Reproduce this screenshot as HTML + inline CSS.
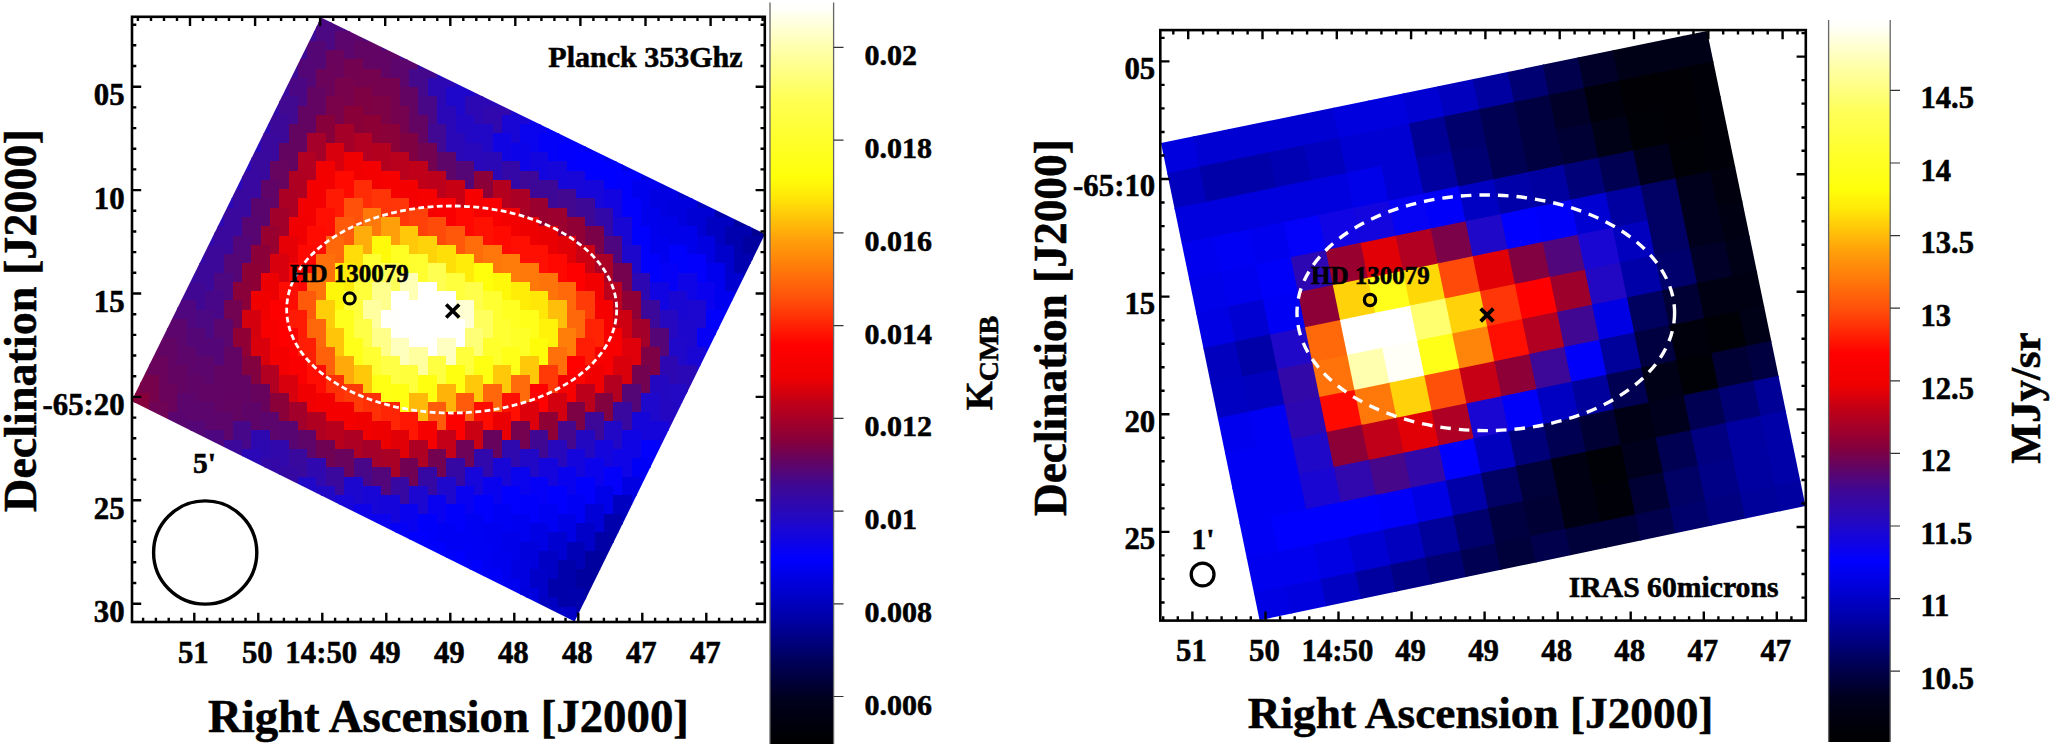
<!DOCTYPE html>
<html><head><meta charset="utf-8"><title>figure</title>
<style>html,body{margin:0;padding:0;background:#fff}svg{display:block}text{font-family:"Liberation Serif","DejaVu Serif",serif;font-weight:bold;fill:#000;stroke:#000;stroke-width:0.55px}</style>
</head><body>
<svg width="2050" height="747" viewBox="0 0 2050 747">
<rect width="2050" height="747" fill="#fff"/>
<defs><linearGradient id="cb" x1="0" y1="0" x2="0" y2="1"><stop offset="0.000" stop-color="#ffffff"/><stop offset="0.008" stop-color="#fffffa"/><stop offset="0.065" stop-color="#ffffa8"/><stop offset="0.130" stop-color="#ffff55"/><stop offset="0.190" stop-color="#ffff28"/><stop offset="0.235" stop-color="#ffff0a"/><stop offset="0.262" stop-color="#ffe808"/><stop offset="0.320" stop-color="#ffa00a"/><stop offset="0.400" stop-color="#ff500a"/><stop offset="0.462" stop-color="#ff0000"/><stop offset="0.505" stop-color="#f00000"/><stop offset="0.540" stop-color="#c00018"/><stop offset="0.590" stop-color="#87003a"/><stop offset="0.620" stop-color="#620464"/><stop offset="0.650" stop-color="#400892"/><stop offset="0.700" stop-color="#2008c8"/><stop offset="0.750" stop-color="#0000ff"/><stop offset="0.830" stop-color="#0000a8"/><stop offset="0.890" stop-color="#000058"/><stop offset="0.940" stop-color="#00001c"/><stop offset="1.000" stop-color="#000000"/></linearGradient>
<clipPath id="lclip"><polygon points="321.0,17.5 765.0,234.0 574.6,621.5 131.5,401.0"/></clipPath>
<clipPath id="rclip"><polygon points="1707.0,31.0 1805.5,506.0 1259.6,620.3 1161.0,143.0"/></clipPath>
</defs>
<g clip-path="url(#lclip)" shape-rendering="crispEdges"><rect x="307.1" y="3.6" width="18.9" height="9.6" fill="#39089d"/><rect x="325.6" y="3.6" width="9.6" height="9.6" fill="#3f0893"/><rect x="307.1" y="12.9" width="9.6" height="9.6" fill="#3c0898"/><rect x="316.4" y="12.9" width="9.6" height="9.6" fill="#4c0782"/><rect x="325.6" y="12.9" width="18.9" height="9.6" fill="#3f0893"/><rect x="344.2" y="12.9" width="9.6" height="9.6" fill="#490786"/><rect x="297.8" y="22.1" width="18.9" height="9.6" fill="#3c0898"/><rect x="316.4" y="22.1" width="28.1" height="9.6" fill="#4c0782"/><rect x="344.2" y="22.1" width="18.9" height="9.6" fill="#490786"/><rect x="362.7" y="22.1" width="9.6" height="9.6" fill="#4d0680"/><rect x="297.8" y="31.4" width="9.6" height="9.6" fill="#3f0894"/><rect x="307.1" y="31.4" width="9.6" height="9.6" fill="#3c0898"/><rect x="316.4" y="31.4" width="18.9" height="9.6" fill="#4c0782"/><rect x="334.9" y="31.4" width="28.1" height="9.6" fill="#5b056d"/><rect x="362.7" y="31.4" width="18.9" height="9.6" fill="#4d0680"/><rect x="381.3" y="31.4" width="9.6" height="9.6" fill="#4b0784"/><rect x="288.5" y="40.7" width="18.9" height="9.6" fill="#3f0894"/><rect x="307.1" y="40.7" width="18.9" height="9.6" fill="#550675"/><rect x="325.6" y="40.7" width="9.6" height="9.6" fill="#4c0782"/><rect x="334.9" y="40.7" width="18.9" height="9.6" fill="#5b056d"/><rect x="353.5" y="40.7" width="28.1" height="9.6" fill="#620464"/><rect x="381.3" y="40.7" width="18.9" height="9.6" fill="#4b0784"/><rect x="399.8" y="40.7" width="9.6" height="9.6" fill="#400893"/><rect x="288.5" y="50.0" width="9.6" height="9.6" fill="#3d0897"/><rect x="297.8" y="50.0" width="9.6" height="9.6" fill="#3f0894"/><rect x="307.1" y="50.0" width="18.9" height="9.6" fill="#550675"/><rect x="325.6" y="50.0" width="18.9" height="9.6" fill="#6a035b"/><rect x="344.2" y="50.0" width="9.6" height="9.6" fill="#5b056d"/><rect x="353.5" y="50.0" width="18.9" height="9.6" fill="#620464"/><rect x="372.0" y="50.0" width="28.1" height="9.6" fill="#620465"/><rect x="399.8" y="50.0" width="18.9" height="9.6" fill="#400893"/><rect x="418.4" y="50.0" width="9.6" height="9.6" fill="#3308a8"/><rect x="279.3" y="59.2" width="18.9" height="9.6" fill="#3d0897"/><rect x="297.8" y="59.2" width="18.9" height="9.6" fill="#540677"/><rect x="316.4" y="59.2" width="9.6" height="9.6" fill="#550675"/><rect x="325.6" y="59.2" width="18.9" height="9.6" fill="#6a035b"/><rect x="344.2" y="59.2" width="18.9" height="9.6" fill="#730251"/><rect x="362.7" y="59.2" width="9.6" height="9.6" fill="#620464"/><rect x="372.0" y="59.2" width="18.9" height="9.6" fill="#620465"/><rect x="390.6" y="59.2" width="28.1" height="9.6" fill="#5c056d"/><rect x="418.4" y="59.2" width="18.9" height="9.6" fill="#3308a8"/><rect x="436.9" y="59.2" width="9.6" height="9.6" fill="#2308c2"/><rect x="279.3" y="68.5" width="9.6" height="9.6" fill="#38089f"/><rect x="288.5" y="68.5" width="9.6" height="9.6" fill="#3d0897"/><rect x="297.8" y="68.5" width="18.9" height="9.6" fill="#540677"/><rect x="316.4" y="68.5" width="18.9" height="9.6" fill="#6b035a"/><rect x="334.9" y="68.5" width="9.6" height="9.6" fill="#6a035b"/><rect x="344.2" y="68.5" width="18.9" height="9.6" fill="#730251"/><rect x="362.7" y="68.5" width="18.9" height="9.6" fill="#75024e"/><rect x="381.3" y="68.5" width="9.6" height="9.6" fill="#620465"/><rect x="390.6" y="68.5" width="18.9" height="9.6" fill="#5c056d"/><rect x="409.1" y="68.5" width="28.1" height="9.6" fill="#44088d"/><rect x="436.9" y="68.5" width="18.9" height="9.6" fill="#2308c2"/><rect x="455.5" y="68.5" width="9.6" height="9.6" fill="#1e08cb"/><rect x="270.0" y="77.8" width="18.9" height="9.6" fill="#38089f"/><rect x="288.5" y="77.8" width="18.9" height="9.6" fill="#4b0783"/><rect x="307.1" y="77.8" width="9.6" height="9.6" fill="#540677"/><rect x="316.4" y="77.8" width="18.9" height="9.6" fill="#6b035a"/><rect x="334.9" y="77.8" width="18.9" height="9.6" fill="#78024b"/><rect x="353.5" y="77.8" width="9.6" height="9.6" fill="#730251"/><rect x="362.7" y="77.8" width="18.9" height="9.6" fill="#75024e"/><rect x="381.3" y="77.8" width="18.9" height="9.6" fill="#75024f"/><rect x="399.8" y="77.8" width="9.6" height="9.6" fill="#5c056d"/><rect x="409.1" y="77.8" width="18.9" height="9.6" fill="#44088d"/><rect x="427.7" y="77.8" width="28.1" height="9.6" fill="#2c08b4"/><rect x="455.5" y="77.8" width="18.9" height="9.6" fill="#1e08cb"/><rect x="474.0" y="77.8" width="9.6" height="9.6" fill="#2708bd"/><rect x="270.0" y="87.1" width="9.6" height="9.6" fill="#3208aa"/><rect x="279.3" y="87.1" width="9.6" height="9.6" fill="#38089f"/><rect x="288.5" y="87.1" width="18.9" height="9.6" fill="#4b0783"/><rect x="307.1" y="87.1" width="18.9" height="9.6" fill="#640462"/><rect x="325.6" y="87.1" width="9.6" height="9.6" fill="#6b035a"/><rect x="334.9" y="87.1" width="18.9" height="9.6" fill="#78024b"/><rect x="353.5" y="87.1" width="18.9" height="9.6" fill="#7e0144"/><rect x="372.0" y="87.1" width="9.6" height="9.6" fill="#75024e"/><rect x="381.3" y="87.1" width="18.9" height="9.6" fill="#75024f"/><rect x="399.8" y="87.1" width="18.9" height="9.6" fill="#630463"/><rect x="418.4" y="87.1" width="9.6" height="9.6" fill="#44088d"/><rect x="427.7" y="87.1" width="18.9" height="9.6" fill="#2c08b4"/><rect x="446.2" y="87.1" width="28.1" height="9.6" fill="#1e07cb"/><rect x="474.0" y="87.1" width="18.9" height="9.6" fill="#2708bd"/><rect x="492.6" y="87.1" width="9.6" height="9.6" fill="#2808ba"/><rect x="260.7" y="96.3" width="18.9" height="9.6" fill="#3208aa"/><rect x="279.3" y="96.3" width="18.9" height="9.6" fill="#410890"/><rect x="297.8" y="96.3" width="9.6" height="9.6" fill="#4b0783"/><rect x="307.1" y="96.3" width="18.9" height="9.6" fill="#640462"/><rect x="325.6" y="96.3" width="18.9" height="9.6" fill="#79024a"/><rect x="344.2" y="96.3" width="9.6" height="9.6" fill="#78024b"/><rect x="353.5" y="96.3" width="18.9" height="9.6" fill="#7e0144"/><rect x="372.0" y="96.3" width="18.9" height="9.6" fill="#7d0145"/><rect x="390.6" y="96.3" width="9.6" height="9.6" fill="#75024f"/><rect x="399.8" y="96.3" width="18.9" height="9.6" fill="#630463"/><rect x="418.4" y="96.3" width="18.9" height="9.6" fill="#480787"/><rect x="436.9" y="96.3" width="9.6" height="9.6" fill="#2c08b4"/><rect x="446.2" y="96.3" width="18.9" height="9.6" fill="#1e07cb"/><rect x="464.8" y="96.3" width="28.1" height="9.6" fill="#2c08b4"/><rect x="492.6" y="96.3" width="18.9" height="9.6" fill="#2808ba"/><rect x="511.1" y="96.3" width="9.6" height="9.6" fill="#1b07d1"/><rect x="260.7" y="105.6" width="9.6" height="9.6" fill="#2c08b4"/><rect x="270.0" y="105.6" width="9.6" height="9.6" fill="#3208aa"/><rect x="279.3" y="105.6" width="18.9" height="9.6" fill="#410890"/><rect x="297.8" y="105.6" width="18.9" height="9.6" fill="#630463"/><rect x="316.4" y="105.6" width="9.6" height="9.6" fill="#640462"/><rect x="325.6" y="105.6" width="18.9" height="9.6" fill="#79024a"/><rect x="344.2" y="105.6" width="18.9" height="9.6" fill="#890039"/><rect x="362.7" y="105.6" width="9.6" height="9.6" fill="#7e0144"/><rect x="372.0" y="105.6" width="18.9" height="9.6" fill="#7d0145"/><rect x="390.6" y="105.6" width="18.9" height="9.6" fill="#74024f"/><rect x="409.1" y="105.6" width="9.6" height="9.6" fill="#630463"/><rect x="418.4" y="105.6" width="18.9" height="9.6" fill="#480787"/><rect x="436.9" y="105.6" width="18.9" height="9.6" fill="#2a08b7"/><rect x="455.5" y="105.6" width="9.6" height="9.6" fill="#1e07cb"/><rect x="464.8" y="105.6" width="18.9" height="9.6" fill="#2c08b4"/><rect x="483.3" y="105.6" width="28.1" height="9.6" fill="#3008ae"/><rect x="511.1" y="105.6" width="18.9" height="9.6" fill="#1b07d1"/><rect x="529.7" y="105.6" width="9.6" height="9.6" fill="#0b03eb"/><rect x="251.4" y="114.9" width="18.9" height="9.6" fill="#2c08b4"/><rect x="270.0" y="114.9" width="18.9" height="9.6" fill="#3c0898"/><rect x="288.5" y="114.9" width="9.6" height="9.6" fill="#410890"/><rect x="297.8" y="114.9" width="18.9" height="9.6" fill="#630463"/><rect x="316.4" y="114.9" width="18.9" height="9.6" fill="#880039"/><rect x="334.9" y="114.9" width="9.6" height="9.6" fill="#79024a"/><rect x="344.2" y="114.9" width="18.9" height="9.6" fill="#890039"/><rect x="362.7" y="114.9" width="18.9" height="9.6" fill="#8d0036"/><rect x="381.3" y="114.9" width="9.6" height="9.6" fill="#7d0145"/><rect x="390.6" y="114.9" width="18.9" height="9.6" fill="#74024f"/><rect x="409.1" y="114.9" width="18.9" height="9.6" fill="#640462"/><rect x="427.7" y="114.9" width="9.6" height="9.6" fill="#480787"/><rect x="436.9" y="114.9" width="18.9" height="9.6" fill="#2a08b7"/><rect x="455.5" y="114.9" width="18.9" height="9.6" fill="#2208c4"/><rect x="474.0" y="114.9" width="9.6" height="9.6" fill="#2c08b4"/><rect x="483.3" y="114.9" width="18.9" height="9.6" fill="#3008ae"/><rect x="501.9" y="114.9" width="28.1" height="9.6" fill="#1906d4"/><rect x="529.7" y="114.9" width="18.9" height="9.6" fill="#0b03eb"/><rect x="548.2" y="114.9" width="9.6" height="9.6" fill="#0000ff"/><rect x="251.4" y="124.2" width="9.6" height="9.6" fill="#2908b9"/><rect x="260.7" y="124.2" width="9.6" height="9.6" fill="#2c08b4"/><rect x="270.0" y="124.2" width="18.9" height="9.6" fill="#3c0898"/><rect x="288.5" y="124.2" width="18.9" height="9.6" fill="#640461"/><rect x="307.1" y="124.2" width="9.6" height="9.6" fill="#630463"/><rect x="316.4" y="124.2" width="18.9" height="9.6" fill="#880039"/><rect x="334.9" y="124.2" width="18.9" height="9.6" fill="#a50028"/><rect x="353.5" y="124.2" width="9.6" height="9.6" fill="#890039"/><rect x="362.7" y="124.2" width="18.9" height="9.6" fill="#8d0036"/><rect x="381.3" y="124.2" width="18.9" height="9.6" fill="#8a0038"/><rect x="399.8" y="124.2" width="9.6" height="9.6" fill="#74024f"/><rect x="409.1" y="124.2" width="18.9" height="9.6" fill="#640462"/><rect x="427.7" y="124.2" width="18.9" height="9.6" fill="#400893"/><rect x="446.2" y="124.2" width="9.6" height="9.6" fill="#2a08b7"/><rect x="455.5" y="124.2" width="18.9" height="9.6" fill="#2208c4"/><rect x="474.0" y="124.2" width="18.9" height="9.6" fill="#2108c7"/><rect x="492.6" y="124.2" width="9.6" height="9.6" fill="#3008ae"/><rect x="501.9" y="124.2" width="18.9" height="9.6" fill="#1906d4"/><rect x="520.4" y="124.2" width="28.1" height="9.6" fill="#0a03ed"/><rect x="548.2" y="124.2" width="18.9" height="9.6" fill="#0000ff"/><rect x="566.8" y="124.2" width="9.6" height="9.6" fill="#0000f3"/><rect x="242.2" y="133.4" width="18.9" height="9.6" fill="#2908b9"/><rect x="260.7" y="133.4" width="18.9" height="9.6" fill="#3a089c"/><rect x="279.3" y="133.4" width="9.6" height="9.6" fill="#3c0898"/><rect x="288.5" y="133.4" width="18.9" height="9.6" fill="#640461"/><rect x="307.1" y="133.4" width="18.9" height="9.6" fill="#a40029"/><rect x="325.6" y="133.4" width="9.6" height="9.6" fill="#880039"/><rect x="334.9" y="133.4" width="18.9" height="9.6" fill="#a50028"/><rect x="353.5" y="133.4" width="18.9" height="9.6" fill="#b10021"/><rect x="372.0" y="133.4" width="9.6" height="9.6" fill="#8d0036"/><rect x="381.3" y="133.4" width="18.9" height="9.6" fill="#8a0038"/><rect x="399.8" y="133.4" width="18.9" height="9.6" fill="#800141"/><rect x="418.4" y="133.4" width="9.6" height="9.6" fill="#640462"/><rect x="427.7" y="133.4" width="18.9" height="9.6" fill="#400893"/><rect x="446.2" y="133.4" width="18.9" height="9.6" fill="#2a08b8"/><rect x="464.8" y="133.4" width="9.6" height="9.6" fill="#2208c4"/><rect x="474.0" y="133.4" width="18.9" height="9.6" fill="#2108c7"/><rect x="492.6" y="133.4" width="18.9" height="9.6" fill="#1004e3"/><rect x="511.1" y="133.4" width="9.6" height="9.6" fill="#1906d4"/><rect x="520.4" y="133.4" width="18.9" height="9.6" fill="#0a03ed"/><rect x="539.0" y="133.4" width="28.1" height="9.6" fill="#0401f8"/><rect x="566.8" y="133.4" width="18.9" height="9.6" fill="#0000f3"/><rect x="585.3" y="133.4" width="9.6" height="9.6" fill="#0000ec"/><rect x="242.2" y="142.7" width="9.6" height="9.6" fill="#2708bc"/><rect x="251.4" y="142.7" width="9.6" height="9.6" fill="#2908b9"/><rect x="260.7" y="142.7" width="18.9" height="9.6" fill="#3a089c"/><rect x="279.3" y="142.7" width="28.1" height="9.6" fill="#640461"/><rect x="307.1" y="142.7" width="18.9" height="9.6" fill="#a40029"/><rect x="325.6" y="142.7" width="18.9" height="9.6" fill="#d7000c"/><rect x="344.2" y="142.7" width="9.6" height="9.6" fill="#a50028"/><rect x="353.5" y="142.7" width="18.9" height="9.6" fill="#b10021"/><rect x="372.0" y="142.7" width="18.9" height="9.6" fill="#b4001f"/><rect x="390.6" y="142.7" width="9.6" height="9.6" fill="#8a0038"/><rect x="399.8" y="142.7" width="18.9" height="9.6" fill="#800141"/><rect x="418.4" y="142.7" width="18.9" height="9.6" fill="#730251"/><rect x="436.9" y="142.7" width="9.6" height="9.6" fill="#400893"/><rect x="446.2" y="142.7" width="18.9" height="9.6" fill="#2a08b8"/><rect x="464.8" y="142.7" width="18.9" height="9.6" fill="#2808ba"/><rect x="483.3" y="142.7" width="9.6" height="9.6" fill="#2108c7"/><rect x="492.6" y="142.7" width="18.9" height="9.6" fill="#1004e3"/><rect x="511.1" y="142.7" width="18.9" height="9.6" fill="#0d03e9"/><rect x="529.7" y="142.7" width="9.6" height="9.6" fill="#0a03ed"/><rect x="539.0" y="142.7" width="18.9" height="9.6" fill="#0401f8"/><rect x="557.5" y="142.7" width="28.1" height="9.6" fill="#0200fc"/><rect x="585.3" y="142.7" width="18.9" height="9.6" fill="#0000ec"/><rect x="603.9" y="142.7" width="9.6" height="9.6" fill="#0000ea"/><rect x="232.9" y="152.0" width="18.9" height="9.6" fill="#2708bc"/><rect x="251.4" y="152.0" width="18.9" height="9.6" fill="#39089d"/><rect x="270.0" y="152.0" width="9.6" height="9.6" fill="#3a089c"/><rect x="279.3" y="152.0" width="18.9" height="9.6" fill="#640461"/><rect x="297.8" y="152.0" width="18.9" height="9.6" fill="#b10021"/><rect x="316.4" y="152.0" width="9.6" height="9.6" fill="#a40029"/><rect x="325.6" y="152.0" width="18.9" height="9.6" fill="#d7000c"/><rect x="344.2" y="152.0" width="18.9" height="9.6" fill="#f00000"/><rect x="362.7" y="152.0" width="9.6" height="9.6" fill="#b10021"/><rect x="372.0" y="152.0" width="18.9" height="9.6" fill="#b4001f"/><rect x="390.6" y="152.0" width="18.9" height="9.6" fill="#b9001c"/><rect x="409.1" y="152.0" width="9.6" height="9.6" fill="#800141"/><rect x="418.4" y="152.0" width="18.9" height="9.6" fill="#730251"/><rect x="436.9" y="152.0" width="18.9" height="9.6" fill="#5e056a"/><rect x="455.5" y="152.0" width="9.6" height="9.6" fill="#2a08b8"/><rect x="464.8" y="152.0" width="18.9" height="9.6" fill="#2808ba"/><rect x="483.3" y="152.0" width="18.9" height="9.6" fill="#2b08b6"/><rect x="501.9" y="152.0" width="9.6" height="9.6" fill="#1004e3"/><rect x="511.1" y="152.0" width="18.9" height="9.6" fill="#0d03e9"/><rect x="529.7" y="152.0" width="18.9" height="9.6" fill="#1305de"/><rect x="548.2" y="152.0" width="9.6" height="9.6" fill="#0401f8"/><rect x="557.5" y="152.0" width="18.9" height="9.6" fill="#0200fc"/><rect x="576.1" y="152.0" width="28.1" height="9.6" fill="#0100fe"/><rect x="603.9" y="152.0" width="18.9" height="9.6" fill="#0000ea"/><rect x="622.4" y="152.0" width="9.6" height="9.6" fill="#0000e7"/><rect x="232.9" y="161.3" width="18.9" height="9.6" fill="#2708bc"/><rect x="251.4" y="161.3" width="18.9" height="9.6" fill="#39089d"/><rect x="270.0" y="161.3" width="18.9" height="9.6" fill="#66045f"/><rect x="288.5" y="161.3" width="9.6" height="9.6" fill="#640461"/><rect x="297.8" y="161.3" width="18.9" height="9.6" fill="#b10021"/><rect x="316.4" y="161.3" width="18.9" height="9.6" fill="#f30000"/><rect x="334.9" y="161.3" width="9.6" height="9.6" fill="#d7000c"/><rect x="344.2" y="161.3" width="18.9" height="9.6" fill="#f00000"/><rect x="362.7" y="161.3" width="18.9" height="9.6" fill="#f40000"/><rect x="381.3" y="161.3" width="9.6" height="9.6" fill="#b4001f"/><rect x="390.6" y="161.3" width="18.9" height="9.6" fill="#b9001c"/><rect x="409.1" y="161.3" width="18.9" height="9.6" fill="#c00018"/><rect x="427.7" y="161.3" width="9.6" height="9.6" fill="#730251"/><rect x="436.9" y="161.3" width="18.9" height="9.6" fill="#5e056a"/><rect x="455.5" y="161.3" width="18.9" height="9.6" fill="#550676"/><rect x="474.0" y="161.3" width="9.6" height="9.6" fill="#2808ba"/><rect x="483.3" y="161.3" width="18.9" height="9.6" fill="#2b08b6"/><rect x="501.9" y="161.3" width="18.9" height="9.6" fill="#3408a7"/><rect x="520.4" y="161.3" width="9.6" height="9.6" fill="#0d03e9"/><rect x="529.7" y="161.3" width="18.9" height="9.6" fill="#1305de"/><rect x="548.2" y="161.3" width="18.9" height="9.6" fill="#1606d9"/><rect x="566.8" y="161.3" width="9.6" height="9.6" fill="#0200fc"/><rect x="576.1" y="161.3" width="18.9" height="9.6" fill="#0100fe"/><rect x="594.6" y="161.3" width="28.1" height="9.6" fill="#0000fe"/><rect x="622.4" y="161.3" width="18.9" height="9.6" fill="#0000e7"/><rect x="641.0" y="161.3" width="9.6" height="9.6" fill="#0000df"/><rect x="223.6" y="170.5" width="18.9" height="9.6" fill="#2708bc"/><rect x="242.2" y="170.5" width="18.9" height="9.6" fill="#3808a0"/><rect x="260.7" y="170.5" width="9.6" height="9.6" fill="#39089d"/><rect x="270.0" y="170.5" width="18.9" height="9.6" fill="#66045f"/><rect x="288.5" y="170.5" width="18.9" height="9.6" fill="#af0022"/><rect x="307.1" y="170.5" width="9.6" height="9.6" fill="#b10021"/><rect x="316.4" y="170.5" width="18.9" height="9.6" fill="#f30000"/><rect x="334.9" y="170.5" width="18.9" height="9.6" fill="#ff0901"/><rect x="353.5" y="170.5" width="9.6" height="9.6" fill="#f00000"/><rect x="362.7" y="170.5" width="18.9" height="9.6" fill="#f40000"/><rect x="381.3" y="170.5" width="18.9" height="9.6" fill="#f60000"/><rect x="399.8" y="170.5" width="9.6" height="9.6" fill="#b9001c"/><rect x="409.1" y="170.5" width="18.9" height="9.6" fill="#c00018"/><rect x="427.7" y="170.5" width="18.9" height="9.6" fill="#bc001b"/><rect x="446.2" y="170.5" width="9.6" height="9.6" fill="#5e056a"/><rect x="455.5" y="170.5" width="18.9" height="9.6" fill="#550676"/><rect x="474.0" y="170.5" width="18.9" height="9.6" fill="#8b0038"/><rect x="492.6" y="170.5" width="9.6" height="9.6" fill="#2b08b6"/><rect x="501.9" y="170.5" width="18.9" height="9.6" fill="#3408a7"/><rect x="520.4" y="170.5" width="18.9" height="9.6" fill="#3d0897"/><rect x="539.0" y="170.5" width="9.6" height="9.6" fill="#1305de"/><rect x="548.2" y="170.5" width="18.9" height="9.6" fill="#1606d9"/><rect x="566.8" y="170.5" width="18.9" height="9.6" fill="#1706d7"/><rect x="585.3" y="170.5" width="9.6" height="9.6" fill="#0100fe"/><rect x="594.6" y="170.5" width="18.9" height="9.6" fill="#0000fe"/><rect x="613.2" y="170.5" width="28.1" height="9.6" fill="#0000fc"/><rect x="641.0" y="170.5" width="18.9" height="9.6" fill="#0000df"/><rect x="659.5" y="170.5" width="9.6" height="9.6" fill="#0000d5"/><rect x="223.6" y="179.8" width="9.6" height="9.6" fill="#2908b9"/><rect x="232.9" y="179.8" width="9.6" height="9.6" fill="#2708bc"/><rect x="242.2" y="179.8" width="18.9" height="9.6" fill="#3808a0"/><rect x="260.7" y="179.8" width="18.9" height="9.6" fill="#600467"/><rect x="279.3" y="179.8" width="9.6" height="9.6" fill="#66045f"/><rect x="288.5" y="179.8" width="18.9" height="9.6" fill="#af0022"/><rect x="307.1" y="179.8" width="18.9" height="9.6" fill="#f40000"/><rect x="325.6" y="179.8" width="9.6" height="9.6" fill="#f30000"/><rect x="334.9" y="179.8" width="18.9" height="9.6" fill="#ff0901"/><rect x="353.5" y="179.8" width="18.9" height="9.6" fill="#ff2c05"/><rect x="372.0" y="179.8" width="9.6" height="9.6" fill="#f40000"/><rect x="381.3" y="179.8" width="18.9" height="9.6" fill="#f60000"/><rect x="399.8" y="179.8" width="18.9" height="9.6" fill="#f50000"/><rect x="418.4" y="179.8" width="9.6" height="9.6" fill="#c00018"/><rect x="427.7" y="179.8" width="18.9" height="9.6" fill="#bc001b"/><rect x="446.2" y="179.8" width="18.9" height="9.6" fill="#c80014"/><rect x="464.8" y="179.8" width="9.6" height="9.6" fill="#550676"/><rect x="474.0" y="179.8" width="18.9" height="9.6" fill="#8b0038"/><rect x="492.6" y="179.8" width="18.9" height="9.6" fill="#b4001f"/><rect x="511.1" y="179.8" width="9.6" height="9.6" fill="#3408a7"/><rect x="520.4" y="179.8" width="18.9" height="9.6" fill="#3d0897"/><rect x="539.0" y="179.8" width="18.9" height="9.6" fill="#3e0896"/><rect x="557.5" y="179.8" width="9.6" height="9.6" fill="#1606d9"/><rect x="566.8" y="179.8" width="18.9" height="9.6" fill="#1706d7"/><rect x="585.3" y="179.8" width="18.9" height="9.6" fill="#1606d9"/><rect x="603.9" y="179.8" width="9.6" height="9.6" fill="#0000fe"/><rect x="613.2" y="179.8" width="18.9" height="9.6" fill="#0000fc"/><rect x="631.7" y="179.8" width="28.1" height="9.6" fill="#0000ef"/><rect x="659.5" y="179.8" width="18.9" height="9.6" fill="#0000d5"/><rect x="678.1" y="179.8" width="9.6" height="9.6" fill="#0000cc"/><rect x="214.3" y="189.1" width="18.9" height="9.6" fill="#2908b9"/><rect x="232.9" y="189.1" width="18.9" height="9.6" fill="#38089f"/><rect x="251.4" y="189.1" width="9.6" height="9.6" fill="#3808a0"/><rect x="260.7" y="189.1" width="18.9" height="9.6" fill="#600467"/><rect x="279.3" y="189.1" width="18.9" height="9.6" fill="#ab0024"/><rect x="297.8" y="189.1" width="9.6" height="9.6" fill="#af0022"/><rect x="307.1" y="189.1" width="18.9" height="9.6" fill="#f40000"/><rect x="325.6" y="189.1" width="18.9" height="9.6" fill="#ff1a03"/><rect x="344.2" y="189.1" width="9.6" height="9.6" fill="#ff0901"/><rect x="353.5" y="189.1" width="18.9" height="9.6" fill="#ff2c05"/><rect x="372.0" y="189.1" width="18.9" height="9.6" fill="#ff3507"/><rect x="390.6" y="189.1" width="9.6" height="9.6" fill="#f60000"/><rect x="399.8" y="189.1" width="18.9" height="9.6" fill="#f50000"/><rect x="418.4" y="189.1" width="18.9" height="9.6" fill="#f60000"/><rect x="436.9" y="189.1" width="9.6" height="9.6" fill="#bc001b"/><rect x="446.2" y="189.1" width="18.9" height="9.6" fill="#c80014"/><rect x="464.8" y="189.1" width="18.9" height="9.6" fill="#f60000"/><rect x="483.3" y="189.1" width="9.6" height="9.6" fill="#8b0038"/><rect x="492.6" y="189.1" width="18.9" height="9.6" fill="#b4001f"/><rect x="511.1" y="189.1" width="18.9" height="9.6" fill="#aa0025"/><rect x="529.7" y="189.1" width="9.6" height="9.6" fill="#3d0897"/><rect x="539.0" y="189.1" width="18.9" height="9.6" fill="#3e0896"/><rect x="557.5" y="189.1" width="18.9" height="9.6" fill="#420890"/><rect x="576.1" y="189.1" width="9.6" height="9.6" fill="#1706d7"/><rect x="585.3" y="189.1" width="18.9" height="9.6" fill="#1606d9"/><rect x="603.9" y="189.1" width="18.9" height="9.6" fill="#1204e0"/><rect x="622.4" y="189.1" width="9.6" height="9.6" fill="#0000fc"/><rect x="631.7" y="189.1" width="18.9" height="9.6" fill="#0000ef"/><rect x="650.3" y="189.1" width="28.1" height="9.6" fill="#0000e3"/><rect x="678.1" y="189.1" width="18.9" height="9.6" fill="#0000cc"/><rect x="696.6" y="189.1" width="9.6" height="9.6" fill="#0000bf"/><rect x="214.3" y="198.4" width="9.6" height="9.6" fill="#2c08b4"/><rect x="223.6" y="198.4" width="9.6" height="9.6" fill="#2908b9"/><rect x="232.9" y="198.4" width="18.9" height="9.6" fill="#38089f"/><rect x="251.4" y="198.4" width="18.9" height="9.6" fill="#5a056e"/><rect x="270.0" y="198.4" width="9.6" height="9.6" fill="#600467"/><rect x="279.3" y="198.4" width="18.9" height="9.6" fill="#ab0024"/><rect x="297.8" y="198.4" width="18.9" height="9.6" fill="#f30000"/><rect x="316.4" y="198.4" width="9.6" height="9.6" fill="#f40000"/><rect x="325.6" y="198.4" width="18.9" height="9.6" fill="#ff1a03"/><rect x="344.2" y="198.4" width="18.9" height="9.6" fill="#ff510a"/><rect x="362.7" y="198.4" width="9.6" height="9.6" fill="#ff2c05"/><rect x="372.0" y="198.4" width="18.9" height="9.6" fill="#ff3507"/><rect x="390.6" y="198.4" width="18.9" height="9.6" fill="#ff3607"/><rect x="409.1" y="198.4" width="9.6" height="9.6" fill="#f50000"/><rect x="418.4" y="198.4" width="18.9" height="9.6" fill="#f60000"/><rect x="436.9" y="198.4" width="18.9" height="9.6" fill="#fb0000"/><rect x="455.5" y="198.4" width="9.6" height="9.6" fill="#c80014"/><rect x="464.8" y="198.4" width="18.9" height="9.6" fill="#f60000"/><rect x="483.3" y="198.4" width="18.9" height="9.6" fill="#f80000"/><rect x="501.9" y="198.4" width="9.6" height="9.6" fill="#b4001f"/><rect x="511.1" y="198.4" width="18.9" height="9.6" fill="#aa0025"/><rect x="529.7" y="198.4" width="18.9" height="9.6" fill="#9a002f"/><rect x="548.2" y="198.4" width="9.6" height="9.6" fill="#3e0896"/><rect x="557.5" y="198.4" width="18.9" height="9.6" fill="#420890"/><rect x="576.1" y="198.4" width="18.9" height="9.6" fill="#3d0896"/><rect x="594.6" y="198.4" width="9.6" height="9.6" fill="#1606d9"/><rect x="603.9" y="198.4" width="18.9" height="9.6" fill="#1204e0"/><rect x="622.4" y="198.4" width="18.9" height="9.6" fill="#0200fc"/><rect x="641.0" y="198.4" width="9.6" height="9.6" fill="#0000ef"/><rect x="650.3" y="198.4" width="18.9" height="9.6" fill="#0000e3"/><rect x="668.8" y="198.4" width="28.1" height="9.6" fill="#0000df"/><rect x="696.6" y="198.4" width="18.9" height="9.6" fill="#0000bf"/><rect x="715.2" y="198.4" width="9.6" height="9.6" fill="#0000ab"/><rect x="205.1" y="207.6" width="18.9" height="9.6" fill="#2c08b4"/><rect x="223.6" y="207.6" width="18.9" height="9.6" fill="#3a089c"/><rect x="242.2" y="207.6" width="9.6" height="9.6" fill="#38089f"/><rect x="251.4" y="207.6" width="18.9" height="9.6" fill="#5a056e"/><rect x="270.0" y="207.6" width="18.9" height="9.6" fill="#a1002a"/><rect x="288.5" y="207.6" width="9.6" height="9.6" fill="#ab0024"/><rect x="297.8" y="207.6" width="18.9" height="9.6" fill="#f30000"/><rect x="316.4" y="207.6" width="18.9" height="9.6" fill="#ff0f02"/><rect x="334.9" y="207.6" width="9.6" height="9.6" fill="#ff1a03"/><rect x="344.2" y="207.6" width="18.9" height="9.6" fill="#ff510a"/><rect x="362.7" y="207.6" width="18.9" height="9.6" fill="#ff790a"/><rect x="381.3" y="207.6" width="9.6" height="9.6" fill="#ff3507"/><rect x="390.6" y="207.6" width="18.9" height="9.6" fill="#ff3607"/><rect x="409.1" y="207.6" width="18.9" height="9.6" fill="#ff4008"/><rect x="427.7" y="207.6" width="9.6" height="9.6" fill="#f60000"/><rect x="436.9" y="207.6" width="18.9" height="9.6" fill="#fb0000"/><rect x="455.5" y="207.6" width="18.9" height="9.6" fill="#ff0801"/><rect x="474.0" y="207.6" width="9.6" height="9.6" fill="#f60000"/><rect x="483.3" y="207.6" width="18.9" height="9.6" fill="#f80000"/><rect x="501.9" y="207.6" width="18.9" height="9.6" fill="#f30000"/><rect x="520.4" y="207.6" width="9.6" height="9.6" fill="#aa0025"/><rect x="529.7" y="207.6" width="18.9" height="9.6" fill="#9a002f"/><rect x="548.2" y="207.6" width="18.9" height="9.6" fill="#9b002e"/><rect x="566.8" y="207.6" width="9.6" height="9.6" fill="#420890"/><rect x="576.1" y="207.6" width="18.9" height="9.6" fill="#3d0896"/><rect x="594.6" y="207.6" width="18.9" height="9.6" fill="#3308a8"/><rect x="613.2" y="207.6" width="9.6" height="9.6" fill="#1204e0"/><rect x="622.4" y="207.6" width="18.9" height="9.6" fill="#0200fc"/><rect x="641.0" y="207.6" width="18.9" height="9.6" fill="#0000ec"/><rect x="659.5" y="207.6" width="9.6" height="9.6" fill="#0000e3"/><rect x="668.8" y="207.6" width="18.9" height="9.6" fill="#0000df"/><rect x="687.4" y="207.6" width="28.1" height="9.6" fill="#0000d5"/><rect x="715.2" y="207.6" width="18.9" height="9.6" fill="#0000ab"/><rect x="733.7" y="207.6" width="9.6" height="9.6" fill="#00009a"/><rect x="205.1" y="216.9" width="9.6" height="9.6" fill="#2f08af"/><rect x="214.3" y="216.9" width="9.6" height="9.6" fill="#2c08b4"/><rect x="223.6" y="216.9" width="18.9" height="9.6" fill="#3a089c"/><rect x="242.2" y="216.9" width="18.9" height="9.6" fill="#580572"/><rect x="260.7" y="216.9" width="9.6" height="9.6" fill="#5a056e"/><rect x="270.0" y="216.9" width="18.9" height="9.6" fill="#a1002a"/><rect x="288.5" y="216.9" width="18.9" height="9.6" fill="#f00000"/><rect x="307.1" y="216.9" width="9.6" height="9.6" fill="#f30000"/><rect x="316.4" y="216.9" width="18.9" height="9.6" fill="#ff0f02"/><rect x="334.9" y="216.9" width="18.9" height="9.6" fill="#ff5a0a"/><rect x="353.5" y="216.9" width="9.6" height="9.6" fill="#ff510a"/><rect x="362.7" y="216.9" width="18.9" height="9.6" fill="#ff790a"/><rect x="381.3" y="216.9" width="18.9" height="9.6" fill="#ffa00a"/><rect x="399.8" y="216.9" width="9.6" height="9.6" fill="#ff3607"/><rect x="409.1" y="216.9" width="18.9" height="9.6" fill="#ff4008"/><rect x="427.7" y="216.9" width="18.9" height="9.6" fill="#ff4b09"/><rect x="446.2" y="216.9" width="9.6" height="9.6" fill="#fb0000"/><rect x="455.5" y="216.9" width="18.9" height="9.6" fill="#ff0801"/><rect x="474.0" y="216.9" width="18.9" height="9.6" fill="#ff1102"/><rect x="492.6" y="216.9" width="9.6" height="9.6" fill="#f80000"/><rect x="501.9" y="216.9" width="18.9" height="9.6" fill="#f30000"/><rect x="520.4" y="216.9" width="18.9" height="9.6" fill="#ee0001"/><rect x="539.0" y="216.9" width="9.6" height="9.6" fill="#9a002f"/><rect x="548.2" y="216.9" width="18.9" height="9.6" fill="#9b002e"/><rect x="566.8" y="216.9" width="18.9" height="9.6" fill="#910034"/><rect x="585.3" y="216.9" width="9.6" height="9.6" fill="#3d0896"/><rect x="594.6" y="216.9" width="18.9" height="9.6" fill="#3308a8"/><rect x="613.2" y="216.9" width="18.9" height="9.6" fill="#1806d5"/><rect x="631.7" y="216.9" width="9.6" height="9.6" fill="#0200fc"/><rect x="641.0" y="216.9" width="18.9" height="9.6" fill="#0000ec"/><rect x="659.5" y="216.9" width="18.9" height="9.6" fill="#0000e9"/><rect x="678.1" y="216.9" width="9.6" height="9.6" fill="#0000df"/><rect x="687.4" y="216.9" width="18.9" height="9.6" fill="#0000d5"/><rect x="705.9" y="216.9" width="28.1" height="9.6" fill="#0000c2"/><rect x="733.7" y="216.9" width="18.9" height="9.6" fill="#00009a"/><rect x="752.3" y="216.9" width="9.6" height="9.6" fill="#000091"/><rect x="195.8" y="226.2" width="18.9" height="9.6" fill="#2f08af"/><rect x="214.3" y="226.2" width="28.1" height="9.6" fill="#3a089c"/><rect x="242.2" y="226.2" width="18.9" height="9.6" fill="#580572"/><rect x="260.7" y="226.2" width="18.9" height="9.6" fill="#980030"/><rect x="279.3" y="226.2" width="9.6" height="9.6" fill="#a1002a"/><rect x="288.5" y="226.2" width="18.9" height="9.6" fill="#f00000"/><rect x="307.1" y="226.2" width="18.9" height="9.6" fill="#ff0b01"/><rect x="325.6" y="226.2" width="9.6" height="9.6" fill="#ff0f02"/><rect x="334.9" y="226.2" width="18.9" height="9.6" fill="#ff5a0a"/><rect x="353.5" y="226.2" width="18.9" height="9.6" fill="#ffad0a"/><rect x="372.0" y="226.2" width="9.6" height="9.6" fill="#ff790a"/><rect x="381.3" y="226.2" width="18.9" height="9.6" fill="#ffa00a"/><rect x="399.8" y="226.2" width="18.9" height="9.6" fill="#ffc809"/><rect x="418.4" y="226.2" width="9.6" height="9.6" fill="#ff4008"/><rect x="427.7" y="226.2" width="18.9" height="9.6" fill="#ff4b09"/><rect x="446.2" y="226.2" width="18.9" height="9.6" fill="#ff580a"/><rect x="464.8" y="226.2" width="9.6" height="9.6" fill="#ff0801"/><rect x="474.0" y="226.2" width="18.9" height="9.6" fill="#ff1102"/><rect x="492.6" y="226.2" width="18.9" height="9.6" fill="#ff0901"/><rect x="511.1" y="226.2" width="9.6" height="9.6" fill="#f30000"/><rect x="520.4" y="226.2" width="18.9" height="9.6" fill="#ee0001"/><rect x="539.0" y="226.2" width="18.9" height="9.6" fill="#eb0002"/><rect x="557.5" y="226.2" width="9.6" height="9.6" fill="#9b002e"/><rect x="566.8" y="226.2" width="18.9" height="9.6" fill="#910034"/><rect x="585.3" y="226.2" width="18.9" height="9.6" fill="#7a0148"/><rect x="603.9" y="226.2" width="9.6" height="9.6" fill="#3308a8"/><rect x="613.2" y="226.2" width="18.9" height="9.6" fill="#1806d5"/><rect x="631.7" y="226.2" width="18.9" height="9.6" fill="#0000fd"/><rect x="650.3" y="226.2" width="9.6" height="9.6" fill="#0000ec"/><rect x="659.5" y="226.2" width="18.9" height="9.6" fill="#0000e9"/><rect x="678.1" y="226.2" width="18.9" height="9.6" fill="#0000ea"/><rect x="696.6" y="226.2" width="9.6" height="9.6" fill="#0000d5"/><rect x="705.9" y="226.2" width="18.9" height="9.6" fill="#0000c2"/><rect x="724.5" y="226.2" width="28.1" height="9.6" fill="#0000af"/><rect x="752.3" y="226.2" width="18.9" height="9.6" fill="#000091"/><rect x="770.8" y="226.2" width="9.6" height="9.6" fill="#000081"/><rect x="195.8" y="235.5" width="9.6" height="9.6" fill="#3208a9"/><rect x="205.1" y="235.5" width="9.6" height="9.6" fill="#2f08af"/><rect x="214.3" y="235.5" width="18.9" height="9.6" fill="#3a089c"/><rect x="232.9" y="235.5" width="18.9" height="9.6" fill="#530679"/><rect x="251.4" y="235.5" width="9.6" height="9.6" fill="#580572"/><rect x="260.7" y="235.5" width="18.9" height="9.6" fill="#980030"/><rect x="279.3" y="235.5" width="18.9" height="9.6" fill="#e60005"/><rect x="297.8" y="235.5" width="9.6" height="9.6" fill="#f00000"/><rect x="307.1" y="235.5" width="18.9" height="9.6" fill="#ff0b01"/><rect x="325.6" y="235.5" width="18.9" height="9.6" fill="#ff680a"/><rect x="344.2" y="235.5" width="9.6" height="9.6" fill="#ff5a0a"/><rect x="353.5" y="235.5" width="18.9" height="9.6" fill="#ffad0a"/><rect x="372.0" y="235.5" width="18.9" height="9.6" fill="#fffa0a"/><rect x="390.6" y="235.5" width="9.6" height="9.6" fill="#ffa00a"/><rect x="399.8" y="235.5" width="18.9" height="9.6" fill="#ffc809"/><rect x="418.4" y="235.5" width="18.9" height="9.6" fill="#ffd309"/><rect x="436.9" y="235.5" width="9.6" height="9.6" fill="#ff4b09"/><rect x="446.2" y="235.5" width="18.9" height="9.6" fill="#ff580a"/><rect x="464.8" y="235.5" width="18.9" height="9.6" fill="#ff6d0a"/><rect x="483.3" y="235.5" width="9.6" height="9.6" fill="#ff1102"/><rect x="492.6" y="235.5" width="18.9" height="9.6" fill="#ff0901"/><rect x="511.1" y="235.5" width="18.9" height="9.6" fill="#ff0e02"/><rect x="529.7" y="235.5" width="9.6" height="9.6" fill="#ee0001"/><rect x="539.0" y="235.5" width="18.9" height="9.6" fill="#eb0002"/><rect x="557.5" y="235.5" width="18.9" height="9.6" fill="#e20007"/><rect x="576.1" y="235.5" width="9.6" height="9.6" fill="#910034"/><rect x="585.3" y="235.5" width="18.9" height="9.6" fill="#7a0148"/><rect x="603.9" y="235.5" width="18.9" height="9.6" fill="#4d0680"/><rect x="622.4" y="235.5" width="9.6" height="9.6" fill="#1806d5"/><rect x="631.7" y="235.5" width="18.9" height="9.6" fill="#0000fd"/><rect x="650.3" y="235.5" width="18.9" height="9.6" fill="#0000ef"/><rect x="668.8" y="235.5" width="9.6" height="9.6" fill="#0000e9"/><rect x="678.1" y="235.5" width="18.9" height="9.6" fill="#0000ea"/><rect x="696.6" y="235.5" width="18.9" height="9.6" fill="#0000e1"/><rect x="715.2" y="235.5" width="9.6" height="9.6" fill="#0000c2"/><rect x="724.5" y="235.5" width="18.9" height="9.6" fill="#0000af"/><rect x="743.0" y="235.5" width="28.1" height="9.6" fill="#0000a0"/><rect x="770.8" y="235.5" width="9.6" height="9.6" fill="#000081"/><rect x="186.5" y="244.7" width="18.9" height="9.6" fill="#3208a9"/><rect x="205.1" y="244.7" width="18.9" height="9.6" fill="#3b089a"/><rect x="223.6" y="244.7" width="9.6" height="9.6" fill="#3a089c"/><rect x="232.9" y="244.7" width="18.9" height="9.6" fill="#530679"/><rect x="251.4" y="244.7" width="18.9" height="9.6" fill="#8b0038"/><rect x="270.0" y="244.7" width="9.6" height="9.6" fill="#980030"/><rect x="279.3" y="244.7" width="18.9" height="9.6" fill="#e60005"/><rect x="297.8" y="244.7" width="18.9" height="9.6" fill="#ff0801"/><rect x="316.4" y="244.7" width="9.6" height="9.6" fill="#ff0b01"/><rect x="325.6" y="244.7" width="18.9" height="9.6" fill="#ff680a"/><rect x="344.2" y="244.7" width="18.9" height="9.6" fill="#ffdd08"/><rect x="362.7" y="244.7" width="9.6" height="9.6" fill="#ffad0a"/><rect x="372.0" y="244.7" width="18.9" height="9.6" fill="#fffa0a"/><rect x="390.6" y="244.7" width="18.9" height="9.6" fill="#ffff23"/><rect x="409.1" y="244.7" width="9.6" height="9.6" fill="#ffc809"/><rect x="418.4" y="244.7" width="18.9" height="9.6" fill="#ffd309"/><rect x="436.9" y="244.7" width="18.9" height="9.6" fill="#ffdf08"/><rect x="455.5" y="244.7" width="9.6" height="9.6" fill="#ff580a"/><rect x="464.8" y="244.7" width="18.9" height="9.6" fill="#ff6d0a"/><rect x="483.3" y="244.7" width="18.9" height="9.6" fill="#ff770a"/><rect x="501.9" y="244.7" width="9.6" height="9.6" fill="#ff0901"/><rect x="511.1" y="244.7" width="18.9" height="9.6" fill="#ff0e02"/><rect x="529.7" y="244.7" width="18.9" height="9.6" fill="#ff0f02"/><rect x="548.2" y="244.7" width="9.6" height="9.6" fill="#eb0002"/><rect x="557.5" y="244.7" width="18.9" height="9.6" fill="#e20007"/><rect x="576.1" y="244.7" width="18.9" height="9.6" fill="#ca0013"/><rect x="594.6" y="244.7" width="9.6" height="9.6" fill="#7a0148"/><rect x="603.9" y="244.7" width="18.9" height="9.6" fill="#4d0680"/><rect x="622.4" y="244.7" width="18.9" height="9.6" fill="#1e07cc"/><rect x="641.0" y="244.7" width="9.6" height="9.6" fill="#0000fd"/><rect x="650.3" y="244.7" width="18.9" height="9.6" fill="#0000ef"/><rect x="668.8" y="244.7" width="18.9" height="9.6" fill="#0000fd"/><rect x="687.4" y="244.7" width="9.6" height="9.6" fill="#0000ea"/><rect x="696.6" y="244.7" width="18.9" height="9.6" fill="#0000e1"/><rect x="715.2" y="244.7" width="18.9" height="9.6" fill="#0000cc"/><rect x="733.7" y="244.7" width="9.6" height="9.6" fill="#0000af"/><rect x="743.0" y="244.7" width="18.9" height="9.6" fill="#0000a0"/><rect x="761.6" y="244.7" width="9.6" height="9.6" fill="#000086"/><rect x="186.5" y="254.0" width="9.6" height="9.6" fill="#3708a2"/><rect x="195.8" y="254.0" width="9.6" height="9.6" fill="#3208a9"/><rect x="205.1" y="254.0" width="18.9" height="9.6" fill="#3b089a"/><rect x="223.6" y="254.0" width="18.9" height="9.6" fill="#540677"/><rect x="242.2" y="254.0" width="9.6" height="9.6" fill="#530679"/><rect x="251.4" y="254.0" width="18.9" height="9.6" fill="#8b0038"/><rect x="270.0" y="254.0" width="18.9" height="9.6" fill="#d8000c"/><rect x="288.5" y="254.0" width="9.6" height="9.6" fill="#e60005"/><rect x="297.8" y="254.0" width="18.9" height="9.6" fill="#ff0801"/><rect x="316.4" y="254.0" width="18.9" height="9.6" fill="#ff700a"/><rect x="334.9" y="254.0" width="9.6" height="9.6" fill="#ff680a"/><rect x="344.2" y="254.0" width="18.9" height="9.6" fill="#ffdd08"/><rect x="362.7" y="254.0" width="18.9" height="9.6" fill="#ffff32"/><rect x="381.3" y="254.0" width="9.6" height="9.6" fill="#fffa0a"/><rect x="390.6" y="254.0" width="18.9" height="9.6" fill="#ffff23"/><rect x="409.1" y="254.0" width="18.9" height="9.6" fill="#ffff30"/><rect x="427.7" y="254.0" width="9.6" height="9.6" fill="#ffd309"/><rect x="436.9" y="254.0" width="18.9" height="9.6" fill="#ffdf08"/><rect x="455.5" y="254.0" width="18.9" height="9.6" fill="#ffec08"/><rect x="474.0" y="254.0" width="9.6" height="9.6" fill="#ff6d0a"/><rect x="483.3" y="254.0" width="18.9" height="9.6" fill="#ff770a"/><rect x="501.9" y="254.0" width="18.9" height="9.6" fill="#ff7c0a"/><rect x="520.4" y="254.0" width="9.6" height="9.6" fill="#ff0e02"/><rect x="529.7" y="254.0" width="18.9" height="9.6" fill="#ff0f02"/><rect x="548.2" y="254.0" width="18.9" height="9.6" fill="#ff0801"/><rect x="566.8" y="254.0" width="9.6" height="9.6" fill="#e20007"/><rect x="576.1" y="254.0" width="18.9" height="9.6" fill="#ca0013"/><rect x="594.6" y="254.0" width="18.9" height="9.6" fill="#aa0025"/><rect x="613.2" y="254.0" width="9.6" height="9.6" fill="#4d0680"/><rect x="622.4" y="254.0" width="18.9" height="9.6" fill="#1e07cc"/><rect x="641.0" y="254.0" width="18.9" height="9.6" fill="#0100fd"/><rect x="659.5" y="254.0" width="9.6" height="9.6" fill="#0000ef"/><rect x="668.8" y="254.0" width="18.9" height="9.6" fill="#0000fd"/><rect x="687.4" y="254.0" width="18.9" height="9.6" fill="#0200fc"/><rect x="705.9" y="254.0" width="9.6" height="9.6" fill="#0000e1"/><rect x="715.2" y="254.0" width="18.9" height="9.6" fill="#0000cc"/><rect x="733.7" y="254.0" width="18.9" height="9.6" fill="#0000b1"/><rect x="752.3" y="254.0" width="9.6" height="9.6" fill="#0000a0"/><rect x="761.6" y="254.0" width="9.6" height="9.6" fill="#000086"/><rect x="177.2" y="263.3" width="18.9" height="9.6" fill="#3708a2"/><rect x="195.8" y="263.3" width="18.9" height="9.6" fill="#3c0899"/><rect x="214.3" y="263.3" width="9.6" height="9.6" fill="#3b089a"/><rect x="223.6" y="263.3" width="18.9" height="9.6" fill="#540677"/><rect x="242.2" y="263.3" width="18.9" height="9.6" fill="#8d0036"/><rect x="260.7" y="263.3" width="9.6" height="9.6" fill="#8b0038"/><rect x="270.0" y="263.3" width="18.9" height="9.6" fill="#d8000c"/><rect x="288.5" y="263.3" width="18.9" height="9.6" fill="#ff0601"/><rect x="307.1" y="263.3" width="9.6" height="9.6" fill="#ff0801"/><rect x="316.4" y="263.3" width="18.9" height="9.6" fill="#ff700a"/><rect x="334.9" y="263.3" width="18.9" height="9.6" fill="#ffec08"/><rect x="353.5" y="263.3" width="9.6" height="9.6" fill="#ffdd08"/><rect x="362.7" y="263.3" width="18.9" height="9.6" fill="#ffff32"/><rect x="381.3" y="263.3" width="18.9" height="9.6" fill="#ffff5a"/><rect x="399.8" y="263.3" width="9.6" height="9.6" fill="#ffff23"/><rect x="409.1" y="263.3" width="18.9" height="9.6" fill="#ffff30"/><rect x="427.7" y="263.3" width="18.9" height="9.6" fill="#ffff52"/><rect x="446.2" y="263.3" width="9.6" height="9.6" fill="#ffdf08"/><rect x="455.5" y="263.3" width="18.9" height="9.6" fill="#ffec08"/><rect x="474.0" y="263.3" width="18.9" height="9.6" fill="#ffff0b"/><rect x="492.6" y="263.3" width="9.6" height="9.6" fill="#ff770a"/><rect x="501.9" y="263.3" width="18.9" height="9.6" fill="#ff7c0a"/><rect x="520.4" y="263.3" width="18.9" height="9.6" fill="#ff790a"/><rect x="539.0" y="263.3" width="9.6" height="9.6" fill="#ff0f02"/><rect x="548.2" y="263.3" width="18.9" height="9.6" fill="#ff0801"/><rect x="566.8" y="263.3" width="18.9" height="9.6" fill="#ff0000"/><rect x="585.3" y="263.3" width="9.6" height="9.6" fill="#ca0013"/><rect x="594.6" y="263.3" width="18.9" height="9.6" fill="#aa0025"/><rect x="613.2" y="263.3" width="18.9" height="9.6" fill="#74024f"/><rect x="631.7" y="263.3" width="9.6" height="9.6" fill="#1e07cc"/><rect x="641.0" y="263.3" width="18.9" height="9.6" fill="#0100fd"/><rect x="659.5" y="263.3" width="18.9" height="9.6" fill="#0501f7"/><rect x="678.1" y="263.3" width="9.6" height="9.6" fill="#0000fd"/><rect x="687.4" y="263.3" width="18.9" height="9.6" fill="#0200fc"/><rect x="705.9" y="263.3" width="18.9" height="9.6" fill="#0000ef"/><rect x="724.5" y="263.3" width="9.6" height="9.6" fill="#0000cc"/><rect x="733.7" y="263.3" width="18.9" height="9.6" fill="#0000b1"/><rect x="752.3" y="263.3" width="9.6" height="9.6" fill="#000094"/><rect x="177.2" y="272.6" width="9.6" height="9.6" fill="#3e0895"/><rect x="186.5" y="272.6" width="9.6" height="9.6" fill="#3708a2"/><rect x="195.8" y="272.6" width="18.9" height="9.6" fill="#3c0899"/><rect x="214.3" y="272.6" width="18.9" height="9.6" fill="#4c0781"/><rect x="232.9" y="272.6" width="9.6" height="9.6" fill="#540677"/><rect x="242.2" y="272.6" width="18.9" height="9.6" fill="#8d0036"/><rect x="260.7" y="272.6" width="18.9" height="9.6" fill="#ed0002"/><rect x="279.3" y="272.6" width="9.6" height="9.6" fill="#d8000c"/><rect x="288.5" y="272.6" width="18.9" height="9.6" fill="#ff0601"/><rect x="307.1" y="272.6" width="18.9" height="9.6" fill="#ff750a"/><rect x="325.6" y="272.6" width="9.6" height="9.6" fill="#ff700a"/><rect x="334.9" y="272.6" width="18.9" height="9.6" fill="#ffec08"/><rect x="353.5" y="272.6" width="18.9" height="9.6" fill="#ffff3a"/><rect x="372.0" y="272.6" width="9.6" height="9.6" fill="#ffff32"/><rect x="381.3" y="272.6" width="18.9" height="9.6" fill="#ffff5a"/><rect x="399.8" y="272.6" width="18.9" height="9.6" fill="#ffffb6"/><rect x="418.4" y="272.6" width="9.6" height="9.6" fill="#ffff30"/><rect x="427.7" y="272.6" width="18.9" height="9.6" fill="#ffff52"/><rect x="446.2" y="272.6" width="18.9" height="9.6" fill="#ffff3e"/><rect x="464.8" y="272.6" width="9.6" height="9.6" fill="#ffec08"/><rect x="474.0" y="272.6" width="18.9" height="9.6" fill="#ffff0b"/><rect x="492.6" y="272.6" width="18.9" height="9.6" fill="#fff809"/><rect x="511.1" y="272.6" width="9.6" height="9.6" fill="#ff7c0a"/><rect x="520.4" y="272.6" width="18.9" height="9.6" fill="#ff790a"/><rect x="539.0" y="272.6" width="18.9" height="9.6" fill="#ff740a"/><rect x="557.5" y="272.6" width="9.6" height="9.6" fill="#ff0801"/><rect x="566.8" y="272.6" width="18.9" height="9.6" fill="#ff0000"/><rect x="585.3" y="272.6" width="18.9" height="9.6" fill="#f20000"/><rect x="603.9" y="272.6" width="9.6" height="9.6" fill="#aa0025"/><rect x="613.2" y="272.6" width="18.9" height="9.6" fill="#74024f"/><rect x="631.7" y="272.6" width="18.9" height="9.6" fill="#2d08b2"/><rect x="650.3" y="272.6" width="9.6" height="9.6" fill="#0100fd"/><rect x="659.5" y="272.6" width="18.9" height="9.6" fill="#0501f7"/><rect x="678.1" y="272.6" width="18.9" height="9.6" fill="#0f04e6"/><rect x="696.6" y="272.6" width="9.6" height="9.6" fill="#0200fc"/><rect x="705.9" y="272.6" width="18.9" height="9.6" fill="#0000ef"/><rect x="724.5" y="272.6" width="18.9" height="9.6" fill="#0000d0"/><rect x="743.0" y="272.6" width="9.6" height="9.6" fill="#0000b1"/><rect x="752.3" y="272.6" width="9.6" height="9.6" fill="#000094"/><rect x="168.0" y="281.8" width="18.9" height="9.6" fill="#3e0895"/><rect x="186.5" y="281.8" width="18.9" height="9.6" fill="#400892"/><rect x="205.1" y="281.8" width="9.6" height="9.6" fill="#3c0899"/><rect x="214.3" y="281.8" width="18.9" height="9.6" fill="#4c0781"/><rect x="232.9" y="281.8" width="18.9" height="9.6" fill="#8a0038"/><rect x="251.4" y="281.8" width="9.6" height="9.6" fill="#8d0036"/><rect x="260.7" y="281.8" width="18.9" height="9.6" fill="#ed0002"/><rect x="279.3" y="281.8" width="18.9" height="9.6" fill="#ff0d02"/><rect x="297.8" y="281.8" width="9.6" height="9.6" fill="#ff0601"/><rect x="307.1" y="281.8" width="18.9" height="9.6" fill="#ff750a"/><rect x="325.6" y="281.8" width="18.9" height="9.6" fill="#fff709"/><rect x="344.2" y="281.8" width="9.6" height="9.6" fill="#ffec08"/><rect x="353.5" y="281.8" width="18.9" height="9.6" fill="#ffff3a"/><rect x="372.0" y="281.8" width="18.9" height="9.6" fill="#ffff8e"/><rect x="390.6" y="281.8" width="9.6" height="9.6" fill="#ffff5a"/><rect x="399.8" y="281.8" width="18.9" height="9.6" fill="#ffffb6"/><rect x="418.4" y="281.8" width="18.9" height="9.6" fill="#ffffff"/><rect x="436.9" y="281.8" width="9.6" height="9.6" fill="#ffff52"/><rect x="446.2" y="281.8" width="18.9" height="9.6" fill="#ffff3e"/><rect x="464.8" y="281.8" width="18.9" height="9.6" fill="#ffff4b"/><rect x="483.3" y="281.8" width="9.6" height="9.6" fill="#ffff0b"/><rect x="492.6" y="281.8" width="18.9" height="9.6" fill="#fff809"/><rect x="511.1" y="281.8" width="18.9" height="9.6" fill="#ffed08"/><rect x="529.7" y="281.8" width="9.6" height="9.6" fill="#ff790a"/><rect x="539.0" y="281.8" width="18.9" height="9.6" fill="#ff740a"/><rect x="557.5" y="281.8" width="18.9" height="9.6" fill="#ff690a"/><rect x="576.1" y="281.8" width="9.6" height="9.6" fill="#ff0000"/><rect x="585.3" y="281.8" width="18.9" height="9.6" fill="#f20000"/><rect x="603.9" y="281.8" width="18.9" height="9.6" fill="#ba001c"/><rect x="622.4" y="281.8" width="9.6" height="9.6" fill="#74024f"/><rect x="631.7" y="281.8" width="18.9" height="9.6" fill="#2d08b2"/><rect x="650.3" y="281.8" width="18.9" height="9.6" fill="#1004e3"/><rect x="668.8" y="281.8" width="9.6" height="9.6" fill="#0501f7"/><rect x="678.1" y="281.8" width="18.9" height="9.6" fill="#0f04e6"/><rect x="696.6" y="281.8" width="18.9" height="9.6" fill="#0a02ee"/><rect x="715.2" y="281.8" width="9.6" height="9.6" fill="#0000ef"/><rect x="724.5" y="281.8" width="18.9" height="9.6" fill="#0000d0"/><rect x="743.0" y="281.8" width="9.6" height="9.6" fill="#0000b2"/><rect x="168.0" y="291.1" width="9.6" height="9.6" fill="#4e067f"/><rect x="177.2" y="291.1" width="9.6" height="9.6" fill="#3e0895"/><rect x="186.5" y="291.1" width="18.9" height="9.6" fill="#400892"/><rect x="205.1" y="291.1" width="18.9" height="9.6" fill="#470788"/><rect x="223.6" y="291.1" width="9.6" height="9.6" fill="#4c0781"/><rect x="232.9" y="291.1" width="18.9" height="9.6" fill="#8a0038"/><rect x="251.4" y="291.1" width="18.9" height="9.6" fill="#f10000"/><rect x="270.0" y="291.1" width="9.6" height="9.6" fill="#ed0002"/><rect x="279.3" y="291.1" width="18.9" height="9.6" fill="#ff0d02"/><rect x="297.8" y="291.1" width="18.9" height="9.6" fill="#ff590a"/><rect x="316.4" y="291.1" width="9.6" height="9.6" fill="#ff750a"/><rect x="325.6" y="291.1" width="18.9" height="9.6" fill="#fff709"/><rect x="344.2" y="291.1" width="18.9" height="9.6" fill="#ffff3e"/><rect x="362.7" y="291.1" width="9.6" height="9.6" fill="#ffff3a"/><rect x="372.0" y="291.1" width="18.9" height="9.6" fill="#ffff8e"/><rect x="390.6" y="291.1" width="18.9" height="9.6" fill="#ffffff"/><rect x="409.1" y="291.1" width="9.6" height="9.6" fill="#ffffb6"/><rect x="418.4" y="291.1" width="37.4" height="9.6" fill="#ffffff"/><rect x="455.5" y="291.1" width="9.6" height="9.6" fill="#ffff3e"/><rect x="464.8" y="291.1" width="18.9" height="9.6" fill="#ffff4b"/><rect x="483.3" y="291.1" width="18.9" height="9.6" fill="#ffff31"/><rect x="501.9" y="291.1" width="9.6" height="9.6" fill="#fff809"/><rect x="511.1" y="291.1" width="18.9" height="9.6" fill="#ffed08"/><rect x="529.7" y="291.1" width="18.9" height="9.6" fill="#ffe708"/><rect x="548.2" y="291.1" width="9.6" height="9.6" fill="#ff740a"/><rect x="557.5" y="291.1" width="18.9" height="9.6" fill="#ff690a"/><rect x="576.1" y="291.1" width="18.9" height="9.6" fill="#ff3b07"/><rect x="594.6" y="291.1" width="9.6" height="9.6" fill="#f20000"/><rect x="603.9" y="291.1" width="18.9" height="9.6" fill="#ba001c"/><rect x="622.4" y="291.1" width="18.9" height="9.6" fill="#8e0036"/><rect x="641.0" y="291.1" width="9.6" height="9.6" fill="#2d08b2"/><rect x="650.3" y="291.1" width="18.9" height="9.6" fill="#1004e3"/><rect x="668.8" y="291.1" width="18.9" height="9.6" fill="#1906d3"/><rect x="687.4" y="291.1" width="9.6" height="9.6" fill="#0f04e6"/><rect x="696.6" y="291.1" width="18.9" height="9.6" fill="#0a02ee"/><rect x="715.2" y="291.1" width="18.9" height="9.6" fill="#0000f0"/><rect x="733.7" y="291.1" width="9.6" height="9.6" fill="#0000d0"/><rect x="743.0" y="291.1" width="9.6" height="9.6" fill="#0000b2"/><rect x="158.7" y="300.4" width="18.9" height="9.6" fill="#4e067f"/><rect x="177.2" y="300.4" width="18.9" height="9.6" fill="#4f067e"/><rect x="195.8" y="300.4" width="9.6" height="9.6" fill="#400892"/><rect x="205.1" y="300.4" width="18.9" height="9.6" fill="#470788"/><rect x="223.6" y="300.4" width="18.9" height="9.6" fill="#720252"/><rect x="242.2" y="300.4" width="9.6" height="9.6" fill="#8a0038"/><rect x="251.4" y="300.4" width="18.9" height="9.6" fill="#f10000"/><rect x="270.0" y="300.4" width="18.9" height="9.6" fill="#ff0000"/><rect x="288.5" y="300.4" width="9.6" height="9.6" fill="#ff0d02"/><rect x="297.8" y="300.4" width="18.9" height="9.6" fill="#ff590a"/><rect x="316.4" y="300.4" width="18.9" height="9.6" fill="#ffce09"/><rect x="334.9" y="300.4" width="9.6" height="9.6" fill="#fff709"/><rect x="344.2" y="300.4" width="18.9" height="9.6" fill="#ffff3e"/><rect x="362.7" y="300.4" width="18.9" height="9.6" fill="#ffffa0"/><rect x="381.3" y="300.4" width="9.6" height="9.6" fill="#ffff8e"/><rect x="390.6" y="300.4" width="65.2" height="9.6" fill="#ffffff"/><rect x="455.5" y="300.4" width="18.9" height="9.6" fill="#ffffd3"/><rect x="474.0" y="300.4" width="9.6" height="9.6" fill="#ffff4b"/><rect x="483.3" y="300.4" width="18.9" height="9.6" fill="#ffff31"/><rect x="501.9" y="300.4" width="18.9" height="9.6" fill="#ffff21"/><rect x="520.4" y="300.4" width="9.6" height="9.6" fill="#ffed08"/><rect x="529.7" y="300.4" width="18.9" height="9.6" fill="#ffe708"/><rect x="548.2" y="300.4" width="18.9" height="9.6" fill="#ffbe09"/><rect x="566.8" y="300.4" width="9.6" height="9.6" fill="#ff690a"/><rect x="576.1" y="300.4" width="18.9" height="9.6" fill="#ff3b07"/><rect x="594.6" y="300.4" width="18.9" height="9.6" fill="#f70000"/><rect x="613.2" y="300.4" width="9.6" height="9.6" fill="#ba001c"/><rect x="622.4" y="300.4" width="18.9" height="9.6" fill="#8e0036"/><rect x="641.0" y="300.4" width="18.9" height="9.6" fill="#3c0899"/><rect x="659.5" y="300.4" width="9.6" height="9.6" fill="#1004e3"/><rect x="668.8" y="300.4" width="18.9" height="9.6" fill="#1906d3"/><rect x="687.4" y="300.4" width="18.9" height="9.6" fill="#1b07d0"/><rect x="705.9" y="300.4" width="9.6" height="9.6" fill="#0a02ee"/><rect x="715.2" y="300.4" width="18.9" height="9.6" fill="#0000f0"/><rect x="733.7" y="300.4" width="9.6" height="9.6" fill="#0000cd"/><rect x="158.7" y="309.7" width="9.6" height="9.6" fill="#5c056c"/><rect x="168.0" y="309.7" width="9.6" height="9.6" fill="#4e067f"/><rect x="177.2" y="309.7" width="18.9" height="9.6" fill="#4f067e"/><rect x="195.8" y="309.7" width="18.9" height="9.6" fill="#4c0782"/><rect x="214.3" y="309.7" width="9.6" height="9.6" fill="#470788"/><rect x="223.6" y="309.7" width="18.9" height="9.6" fill="#720252"/><rect x="242.2" y="309.7" width="18.9" height="9.6" fill="#d4000e"/><rect x="260.7" y="309.7" width="9.6" height="9.6" fill="#f10000"/><rect x="270.0" y="309.7" width="18.9" height="9.6" fill="#ff0000"/><rect x="288.5" y="309.7" width="18.9" height="9.6" fill="#ff1b03"/><rect x="307.1" y="309.7" width="9.6" height="9.6" fill="#ff590a"/><rect x="316.4" y="309.7" width="18.9" height="9.6" fill="#ffce09"/><rect x="334.9" y="309.7" width="18.9" height="9.6" fill="#ffff1e"/><rect x="353.5" y="309.7" width="9.6" height="9.6" fill="#ffff3e"/><rect x="362.7" y="309.7" width="18.9" height="9.6" fill="#ffffa0"/><rect x="381.3" y="309.7" width="18.9" height="9.6" fill="#fffffc"/><rect x="399.8" y="309.7" width="56.0" height="9.6" fill="#ffffff"/><rect x="455.5" y="309.7" width="18.9" height="9.6" fill="#ffffd3"/><rect x="474.0" y="309.7" width="18.9" height="9.6" fill="#ffff5e"/><rect x="492.6" y="309.7" width="9.6" height="9.6" fill="#ffff31"/><rect x="501.9" y="309.7" width="18.9" height="9.6" fill="#ffff21"/><rect x="520.4" y="309.7" width="18.9" height="9.6" fill="#ffff19"/><rect x="539.0" y="309.7" width="9.6" height="9.6" fill="#ffe708"/><rect x="548.2" y="309.7" width="18.9" height="9.6" fill="#ffbe09"/><rect x="566.8" y="309.7" width="18.9" height="9.6" fill="#ff680a"/><rect x="585.3" y="309.7" width="9.6" height="9.6" fill="#ff3b07"/><rect x="594.6" y="309.7" width="18.9" height="9.6" fill="#f70000"/><rect x="613.2" y="309.7" width="18.9" height="9.6" fill="#cd0012"/><rect x="631.7" y="309.7" width="9.6" height="9.6" fill="#8e0036"/><rect x="641.0" y="309.7" width="18.9" height="9.6" fill="#3c0899"/><rect x="659.5" y="309.7" width="18.9" height="9.6" fill="#2508bf"/><rect x="678.1" y="309.7" width="9.6" height="9.6" fill="#1906d3"/><rect x="687.4" y="309.7" width="18.9" height="9.6" fill="#1b07d0"/><rect x="705.9" y="309.7" width="18.9" height="9.6" fill="#0201fb"/><rect x="724.5" y="309.7" width="9.6" height="9.6" fill="#0000f0"/><rect x="733.7" y="309.7" width="9.6" height="9.6" fill="#0000cd"/><rect x="149.4" y="318.9" width="18.9" height="9.6" fill="#5c056c"/><rect x="168.0" y="318.9" width="18.9" height="9.6" fill="#5b056d"/><rect x="186.5" y="318.9" width="9.6" height="9.6" fill="#4f067e"/><rect x="195.8" y="318.9" width="18.9" height="9.6" fill="#4c0782"/><rect x="214.3" y="318.9" width="18.9" height="9.6" fill="#5b056e"/><rect x="232.9" y="318.9" width="9.6" height="9.6" fill="#720252"/><rect x="242.2" y="318.9" width="18.9" height="9.6" fill="#d4000e"/><rect x="260.7" y="318.9" width="18.9" height="9.6" fill="#f90000"/><rect x="279.3" y="318.9" width="9.6" height="9.6" fill="#ff0000"/><rect x="288.5" y="318.9" width="18.9" height="9.6" fill="#ff1b03"/><rect x="307.1" y="318.9" width="18.9" height="9.6" fill="#ff680a"/><rect x="325.6" y="318.9" width="9.6" height="9.6" fill="#ffce09"/><rect x="334.9" y="318.9" width="18.9" height="9.6" fill="#ffff1e"/><rect x="353.5" y="318.9" width="18.9" height="9.6" fill="#ffff47"/><rect x="372.0" y="318.9" width="9.6" height="9.6" fill="#ffffa0"/><rect x="381.3" y="318.9" width="18.9" height="9.6" fill="#fffffc"/><rect x="399.8" y="318.9" width="65.2" height="9.6" fill="#ffffff"/><rect x="464.8" y="318.9" width="9.6" height="9.6" fill="#ffffd3"/><rect x="474.0" y="318.9" width="18.9" height="9.6" fill="#ffff5e"/><rect x="492.6" y="318.9" width="18.9" height="9.6" fill="#ffff32"/><rect x="511.1" y="318.9" width="9.6" height="9.6" fill="#ffff21"/><rect x="520.4" y="318.9" width="18.9" height="9.6" fill="#ffff19"/><rect x="539.0" y="318.9" width="18.9" height="9.6" fill="#fff309"/><rect x="557.5" y="318.9" width="9.6" height="9.6" fill="#ffbe09"/><rect x="566.8" y="318.9" width="18.9" height="9.6" fill="#ff680a"/><rect x="585.3" y="318.9" width="18.9" height="9.6" fill="#ff2304"/><rect x="603.9" y="318.9" width="9.6" height="9.6" fill="#f70000"/><rect x="613.2" y="318.9" width="18.9" height="9.6" fill="#cd0012"/><rect x="631.7" y="318.9" width="18.9" height="9.6" fill="#a30029"/><rect x="650.3" y="318.9" width="9.6" height="9.6" fill="#3c0899"/><rect x="659.5" y="318.9" width="18.9" height="9.6" fill="#2508bf"/><rect x="678.1" y="318.9" width="18.9" height="9.6" fill="#1d07cd"/><rect x="696.6" y="318.9" width="9.6" height="9.6" fill="#1b07d0"/><rect x="705.9" y="318.9" width="18.9" height="9.6" fill="#0201fb"/><rect x="724.5" y="318.9" width="9.6" height="9.6" fill="#0000dd"/><rect x="149.4" y="328.2" width="9.6" height="9.6" fill="#660460"/><rect x="158.7" y="328.2" width="9.6" height="9.6" fill="#5c056c"/><rect x="168.0" y="328.2" width="18.9" height="9.6" fill="#5b056d"/><rect x="186.5" y="328.2" width="18.9" height="9.6" fill="#540677"/><rect x="205.1" y="328.2" width="9.6" height="9.6" fill="#4c0782"/><rect x="214.3" y="328.2" width="18.9" height="9.6" fill="#5b056e"/><rect x="232.9" y="328.2" width="18.9" height="9.6" fill="#900035"/><rect x="251.4" y="328.2" width="9.6" height="9.6" fill="#d4000e"/><rect x="260.7" y="328.2" width="18.9" height="9.6" fill="#f90000"/><rect x="279.3" y="328.2" width="18.9" height="9.6" fill="#ff0000"/><rect x="297.8" y="328.2" width="9.6" height="9.6" fill="#ff1b03"/><rect x="307.1" y="328.2" width="18.9" height="9.6" fill="#ff680a"/><rect x="325.6" y="328.2" width="18.9" height="9.6" fill="#ffc609"/><rect x="344.2" y="328.2" width="9.6" height="9.6" fill="#ffff1e"/><rect x="353.5" y="328.2" width="18.9" height="9.6" fill="#ffff47"/><rect x="372.0" y="328.2" width="18.9" height="9.6" fill="#ffff89"/><rect x="390.6" y="328.2" width="9.6" height="9.6" fill="#fffffc"/><rect x="399.8" y="328.2" width="65.2" height="9.6" fill="#ffffff"/><rect x="464.8" y="328.2" width="18.9" height="9.6" fill="#ffff77"/><rect x="483.3" y="328.2" width="9.6" height="9.6" fill="#ffff5e"/><rect x="492.6" y="328.2" width="18.9" height="9.6" fill="#ffff32"/><rect x="511.1" y="328.2" width="18.9" height="9.6" fill="#ffff28"/><rect x="529.7" y="328.2" width="9.6" height="9.6" fill="#ffff19"/><rect x="539.0" y="328.2" width="18.9" height="9.6" fill="#fff309"/><rect x="557.5" y="328.2" width="18.9" height="9.6" fill="#ff7e0a"/><rect x="576.1" y="328.2" width="9.6" height="9.6" fill="#ff680a"/><rect x="585.3" y="328.2" width="18.9" height="9.6" fill="#ff2304"/><rect x="603.9" y="328.2" width="18.9" height="9.6" fill="#f80000"/><rect x="622.4" y="328.2" width="9.6" height="9.6" fill="#cd0012"/><rect x="631.7" y="328.2" width="18.9" height="9.6" fill="#a30029"/><rect x="650.3" y="328.2" width="18.9" height="9.6" fill="#550575"/><rect x="668.8" y="328.2" width="9.6" height="9.6" fill="#2508bf"/><rect x="678.1" y="328.2" width="18.9" height="9.6" fill="#1d07cd"/><rect x="696.6" y="328.2" width="18.9" height="9.6" fill="#0601f5"/><rect x="715.2" y="328.2" width="9.6" height="9.6" fill="#0201fb"/><rect x="724.5" y="328.2" width="9.6" height="9.6" fill="#0000dd"/><rect x="140.1" y="337.5" width="18.9" height="9.6" fill="#660460"/><rect x="158.7" y="337.5" width="18.9" height="9.6" fill="#620464"/><rect x="177.2" y="337.5" width="9.6" height="9.6" fill="#5b056d"/><rect x="186.5" y="337.5" width="18.9" height="9.6" fill="#540677"/><rect x="205.1" y="337.5" width="18.9" height="9.6" fill="#540678"/><rect x="223.6" y="337.5" width="9.6" height="9.6" fill="#5b056e"/><rect x="232.9" y="337.5" width="18.9" height="9.6" fill="#900035"/><rect x="251.4" y="337.5" width="18.9" height="9.6" fill="#d9000c"/><rect x="270.0" y="337.5" width="9.6" height="9.6" fill="#f90000"/><rect x="279.3" y="337.5" width="18.9" height="9.6" fill="#ff0000"/><rect x="297.8" y="337.5" width="18.9" height="9.6" fill="#ff1d04"/><rect x="316.4" y="337.5" width="9.6" height="9.6" fill="#ff680a"/><rect x="325.6" y="337.5" width="18.9" height="9.6" fill="#ffc609"/><rect x="344.2" y="337.5" width="18.9" height="9.6" fill="#ffff19"/><rect x="362.7" y="337.5" width="9.6" height="9.6" fill="#ffff47"/><rect x="372.0" y="337.5" width="18.9" height="9.6" fill="#ffff89"/><rect x="390.6" y="337.5" width="18.9" height="9.6" fill="#ffffbd"/><rect x="409.1" y="337.5" width="28.1" height="9.6" fill="#ffffff"/><rect x="436.9" y="337.5" width="18.9" height="9.6" fill="#ffffc2"/><rect x="455.5" y="337.5" width="9.6" height="9.6" fill="#ffffff"/><rect x="464.8" y="337.5" width="18.9" height="9.6" fill="#ffff77"/><rect x="483.3" y="337.5" width="18.9" height="9.6" fill="#ffff2b"/><rect x="501.9" y="337.5" width="9.6" height="9.6" fill="#ffff32"/><rect x="511.1" y="337.5" width="18.9" height="9.6" fill="#ffff28"/><rect x="529.7" y="337.5" width="18.9" height="9.6" fill="#fffc0a"/><rect x="548.2" y="337.5" width="9.6" height="9.6" fill="#fff309"/><rect x="557.5" y="337.5" width="18.9" height="9.6" fill="#ff7e0a"/><rect x="576.1" y="337.5" width="18.9" height="9.6" fill="#ff1d04"/><rect x="594.6" y="337.5" width="9.6" height="9.6" fill="#ff2304"/><rect x="603.9" y="337.5" width="18.9" height="9.6" fill="#f80000"/><rect x="622.4" y="337.5" width="18.9" height="9.6" fill="#df0009"/><rect x="641.0" y="337.5" width="9.6" height="9.6" fill="#a30029"/><rect x="650.3" y="337.5" width="18.9" height="9.6" fill="#550575"/><rect x="668.8" y="337.5" width="18.9" height="9.6" fill="#1f08ca"/><rect x="687.4" y="337.5" width="9.6" height="9.6" fill="#1d07cd"/><rect x="696.6" y="337.5" width="18.9" height="9.6" fill="#0601f5"/><rect x="715.2" y="337.5" width="9.6" height="9.6" fill="#0000eb"/><rect x="140.1" y="346.8" width="9.6" height="9.6" fill="#700254"/><rect x="149.4" y="346.8" width="9.6" height="9.6" fill="#660460"/><rect x="158.7" y="346.8" width="18.9" height="9.6" fill="#620464"/><rect x="177.2" y="346.8" width="18.9" height="9.6" fill="#5d056a"/><rect x="195.8" y="346.8" width="9.6" height="9.6" fill="#540677"/><rect x="205.1" y="346.8" width="18.9" height="9.6" fill="#540678"/><rect x="223.6" y="346.8" width="18.9" height="9.6" fill="#620464"/><rect x="242.2" y="346.8" width="9.6" height="9.6" fill="#900035"/><rect x="251.4" y="346.8" width="18.9" height="9.6" fill="#d9000c"/><rect x="270.0" y="346.8" width="18.9" height="9.6" fill="#f40000"/><rect x="288.5" y="346.8" width="9.6" height="9.6" fill="#ff0000"/><rect x="297.8" y="346.8" width="18.9" height="9.6" fill="#ff1d04"/><rect x="316.4" y="346.8" width="18.9" height="9.6" fill="#ff600a"/><rect x="334.9" y="346.8" width="9.6" height="9.6" fill="#ffc609"/><rect x="344.2" y="346.8" width="18.9" height="9.6" fill="#ffff19"/><rect x="362.7" y="346.8" width="18.9" height="9.6" fill="#ffff32"/><rect x="381.3" y="346.8" width="9.6" height="9.6" fill="#ffff89"/><rect x="390.6" y="346.8" width="18.9" height="9.6" fill="#ffffbd"/><rect x="409.1" y="346.8" width="18.9" height="9.6" fill="#ffff9f"/><rect x="427.7" y="346.8" width="9.6" height="9.6" fill="#ffffff"/><rect x="436.9" y="346.8" width="18.9" height="9.6" fill="#ffffc2"/><rect x="455.5" y="346.8" width="18.9" height="9.6" fill="#ffff3b"/><rect x="474.0" y="346.8" width="9.6" height="9.6" fill="#ffff77"/><rect x="483.3" y="346.8" width="18.9" height="9.6" fill="#ffff2b"/><rect x="501.9" y="346.8" width="18.9" height="9.6" fill="#ffff18"/><rect x="520.4" y="346.8" width="9.6" height="9.6" fill="#ffff28"/><rect x="529.7" y="346.8" width="18.9" height="9.6" fill="#fffc0a"/><rect x="548.2" y="346.8" width="18.9" height="9.6" fill="#ff700a"/><rect x="566.8" y="346.8" width="9.6" height="9.6" fill="#ff7e0a"/><rect x="576.1" y="346.8" width="18.9" height="9.6" fill="#ff1d04"/><rect x="594.6" y="346.8" width="18.9" height="9.6" fill="#f90000"/><rect x="613.2" y="346.8" width="9.6" height="9.6" fill="#f80000"/><rect x="622.4" y="346.8" width="18.9" height="9.6" fill="#df0009"/><rect x="641.0" y="346.8" width="18.9" height="9.6" fill="#7e0145"/><rect x="659.5" y="346.8" width="9.6" height="9.6" fill="#550575"/><rect x="668.8" y="346.8" width="18.9" height="9.6" fill="#1f08ca"/><rect x="687.4" y="346.8" width="18.9" height="9.6" fill="#1906d5"/><rect x="705.9" y="346.8" width="9.6" height="9.6" fill="#0601f5"/><rect x="715.2" y="346.8" width="9.6" height="9.6" fill="#0000eb"/><rect x="130.9" y="356.0" width="18.9" height="9.6" fill="#700254"/><rect x="149.4" y="356.0" width="18.9" height="9.6" fill="#6a035b"/><rect x="168.0" y="356.0" width="9.6" height="9.6" fill="#620464"/><rect x="177.2" y="356.0" width="18.9" height="9.6" fill="#5d056a"/><rect x="195.8" y="356.0" width="18.9" height="9.6" fill="#5c056c"/><rect x="214.3" y="356.0" width="9.6" height="9.6" fill="#540678"/><rect x="223.6" y="356.0" width="18.9" height="9.6" fill="#620464"/><rect x="242.2" y="356.0" width="18.9" height="9.6" fill="#82013f"/><rect x="260.7" y="356.0" width="9.6" height="9.6" fill="#d9000c"/><rect x="270.0" y="356.0" width="18.9" height="9.6" fill="#f40000"/><rect x="288.5" y="356.0" width="18.9" height="9.6" fill="#fa0000"/><rect x="307.1" y="356.0" width="9.6" height="9.6" fill="#ff1d04"/><rect x="316.4" y="356.0" width="18.9" height="9.6" fill="#ff600a"/><rect x="334.9" y="356.0" width="18.9" height="9.6" fill="#ffa90a"/><rect x="353.5" y="356.0" width="9.6" height="9.6" fill="#ffff19"/><rect x="362.7" y="356.0" width="18.9" height="9.6" fill="#ffff32"/><rect x="381.3" y="356.0" width="18.9" height="9.6" fill="#ffff45"/><rect x="399.8" y="356.0" width="9.6" height="9.6" fill="#ffffbd"/><rect x="409.1" y="356.0" width="18.9" height="9.6" fill="#ffff9f"/><rect x="427.7" y="356.0" width="18.9" height="9.6" fill="#ffff42"/><rect x="446.2" y="356.0" width="9.6" height="9.6" fill="#ffffc2"/><rect x="455.5" y="356.0" width="18.9" height="9.6" fill="#ffff3b"/><rect x="474.0" y="356.0" width="18.9" height="9.6" fill="#ffff11"/><rect x="492.6" y="356.0" width="9.6" height="9.6" fill="#ffff2b"/><rect x="501.9" y="356.0" width="18.9" height="9.6" fill="#ffff18"/><rect x="520.4" y="356.0" width="18.9" height="9.6" fill="#ffc909"/><rect x="539.0" y="356.0" width="9.6" height="9.6" fill="#fffc0a"/><rect x="548.2" y="356.0" width="18.9" height="9.6" fill="#ff700a"/><rect x="566.8" y="356.0" width="18.9" height="9.6" fill="#ff0200"/><rect x="585.3" y="356.0" width="9.6" height="9.6" fill="#ff1d04"/><rect x="594.6" y="356.0" width="18.9" height="9.6" fill="#f90000"/><rect x="613.2" y="356.0" width="18.9" height="9.6" fill="#d9000c"/><rect x="631.7" y="356.0" width="9.6" height="9.6" fill="#df0009"/><rect x="641.0" y="356.0" width="18.9" height="9.6" fill="#7e0145"/><rect x="659.5" y="356.0" width="18.9" height="9.6" fill="#2d08b2"/><rect x="678.1" y="356.0" width="9.6" height="9.6" fill="#1f08ca"/><rect x="687.4" y="356.0" width="18.9" height="9.6" fill="#1906d5"/><rect x="705.9" y="356.0" width="9.6" height="9.6" fill="#0a02ee"/><rect x="130.9" y="365.3" width="9.6" height="9.6" fill="#800142"/><rect x="140.1" y="365.3" width="9.6" height="9.6" fill="#700254"/><rect x="149.4" y="365.3" width="18.9" height="9.6" fill="#6a035b"/><rect x="168.0" y="365.3" width="18.9" height="9.6" fill="#640462"/><rect x="186.5" y="365.3" width="9.6" height="9.6" fill="#5d056a"/><rect x="195.8" y="365.3" width="18.9" height="9.6" fill="#5c056c"/><rect x="214.3" y="365.3" width="28.1" height="9.6" fill="#620464"/><rect x="242.2" y="365.3" width="18.9" height="9.6" fill="#82013f"/><rect x="260.7" y="365.3" width="18.9" height="9.6" fill="#b10021"/><rect x="279.3" y="365.3" width="9.6" height="9.6" fill="#f40000"/><rect x="288.5" y="365.3" width="18.9" height="9.6" fill="#fa0000"/><rect x="307.1" y="365.3" width="18.9" height="9.6" fill="#ff0d02"/><rect x="325.6" y="365.3" width="9.6" height="9.6" fill="#ff600a"/><rect x="334.9" y="365.3" width="18.9" height="9.6" fill="#ffa90a"/><rect x="353.5" y="365.3" width="18.9" height="9.6" fill="#ffc809"/><rect x="372.0" y="365.3" width="9.6" height="9.6" fill="#ffff32"/><rect x="381.3" y="365.3" width="18.9" height="9.6" fill="#ffff45"/><rect x="399.8" y="365.3" width="18.9" height="9.6" fill="#ffff3c"/><rect x="418.4" y="365.3" width="9.6" height="9.6" fill="#ffff9f"/><rect x="427.7" y="365.3" width="18.9" height="9.6" fill="#ffff42"/><rect x="446.2" y="365.3" width="18.9" height="9.6" fill="#ffff10"/><rect x="464.8" y="365.3" width="9.6" height="9.6" fill="#ffff3b"/><rect x="474.0" y="365.3" width="18.9" height="9.6" fill="#ffff11"/><rect x="492.6" y="365.3" width="18.9" height="9.6" fill="#ffc909"/><rect x="511.1" y="365.3" width="9.6" height="9.6" fill="#ffff18"/><rect x="520.4" y="365.3" width="18.9" height="9.6" fill="#ffc909"/><rect x="539.0" y="365.3" width="18.9" height="9.6" fill="#ff3a07"/><rect x="557.5" y="365.3" width="9.6" height="9.6" fill="#ff700a"/><rect x="566.8" y="365.3" width="18.9" height="9.6" fill="#ff0200"/><rect x="585.3" y="365.3" width="18.9" height="9.6" fill="#f00000"/><rect x="603.9" y="365.3" width="9.6" height="9.6" fill="#f90000"/><rect x="613.2" y="365.3" width="18.9" height="9.6" fill="#d9000c"/><rect x="631.7" y="365.3" width="18.9" height="9.6" fill="#730250"/><rect x="650.3" y="365.3" width="9.6" height="9.6" fill="#7e0145"/><rect x="659.5" y="365.3" width="18.9" height="9.6" fill="#2d08b2"/><rect x="678.1" y="365.3" width="18.9" height="9.6" fill="#2b08b5"/><rect x="696.6" y="365.3" width="9.6" height="9.6" fill="#1906d5"/><rect x="705.9" y="365.3" width="9.6" height="9.6" fill="#0a02ee"/><rect x="121.6" y="374.6" width="18.9" height="9.6" fill="#800142"/><rect x="140.1" y="374.6" width="18.9" height="9.6" fill="#77024c"/><rect x="158.7" y="374.6" width="9.6" height="9.6" fill="#6a035b"/><rect x="168.0" y="374.6" width="18.9" height="9.6" fill="#640462"/><rect x="186.5" y="374.6" width="18.9" height="9.6" fill="#600467"/><rect x="205.1" y="374.6" width="9.6" height="9.6" fill="#5c056c"/><rect x="214.3" y="374.6" width="37.4" height="9.6" fill="#620464"/><rect x="251.4" y="374.6" width="9.6" height="9.6" fill="#82013f"/><rect x="260.7" y="374.6" width="18.9" height="9.6" fill="#b10021"/><rect x="279.3" y="374.6" width="18.9" height="9.6" fill="#d7000c"/><rect x="297.8" y="374.6" width="9.6" height="9.6" fill="#fa0000"/><rect x="307.1" y="374.6" width="18.9" height="9.6" fill="#ff0d02"/><rect x="325.6" y="374.6" width="18.9" height="9.6" fill="#ff3006"/><rect x="344.2" y="374.6" width="9.6" height="9.6" fill="#ffa90a"/><rect x="353.5" y="374.6" width="18.9" height="9.6" fill="#ffc809"/><rect x="372.0" y="374.6" width="18.9" height="9.6" fill="#ffff13"/><rect x="390.6" y="374.6" width="9.6" height="9.6" fill="#ffff45"/><rect x="399.8" y="374.6" width="18.9" height="9.6" fill="#ffff3c"/><rect x="418.4" y="374.6" width="18.9" height="9.6" fill="#ffff10"/><rect x="436.9" y="374.6" width="9.6" height="9.6" fill="#ffff42"/><rect x="446.2" y="374.6" width="18.9" height="9.6" fill="#ffff10"/><rect x="464.8" y="374.6" width="18.9" height="9.6" fill="#ffc909"/><rect x="483.3" y="374.6" width="9.6" height="9.6" fill="#ffff11"/><rect x="492.6" y="374.6" width="18.9" height="9.6" fill="#ffc909"/><rect x="511.1" y="374.6" width="18.9" height="9.6" fill="#ff6a0a"/><rect x="529.7" y="374.6" width="9.6" height="9.6" fill="#ffc909"/><rect x="539.0" y="374.6" width="18.9" height="9.6" fill="#ff3a07"/><rect x="557.5" y="374.6" width="18.9" height="9.6" fill="#f60000"/><rect x="576.1" y="374.6" width="9.6" height="9.6" fill="#ff0200"/><rect x="585.3" y="374.6" width="18.9" height="9.6" fill="#f00000"/><rect x="603.9" y="374.6" width="18.9" height="9.6" fill="#b30020"/><rect x="622.4" y="374.6" width="9.6" height="9.6" fill="#d9000c"/><rect x="631.7" y="374.6" width="18.9" height="9.6" fill="#730250"/><rect x="650.3" y="374.6" width="18.9" height="9.6" fill="#2408c1"/><rect x="668.8" y="374.6" width="9.6" height="9.6" fill="#2d08b2"/><rect x="678.1" y="374.6" width="18.9" height="9.6" fill="#2b08b5"/><rect x="696.6" y="374.6" width="9.6" height="9.6" fill="#1c07cf"/><rect x="121.6" y="383.9" width="9.6" height="9.6" fill="#8f0035"/><rect x="130.9" y="383.9" width="9.6" height="9.6" fill="#800142"/><rect x="140.1" y="383.9" width="18.9" height="9.6" fill="#77024c"/><rect x="158.7" y="383.9" width="18.9" height="9.6" fill="#69035c"/><rect x="177.2" y="383.9" width="9.6" height="9.6" fill="#640462"/><rect x="186.5" y="383.9" width="18.9" height="9.6" fill="#600467"/><rect x="205.1" y="383.9" width="18.9" height="9.6" fill="#610465"/><rect x="223.6" y="383.9" width="28.1" height="9.6" fill="#620464"/><rect x="251.4" y="383.9" width="18.9" height="9.6" fill="#68035d"/><rect x="270.0" y="383.9" width="9.6" height="9.6" fill="#b10021"/><rect x="279.3" y="383.9" width="18.9" height="9.6" fill="#d7000c"/><rect x="297.8" y="383.9" width="18.9" height="9.6" fill="#f00000"/><rect x="316.4" y="383.9" width="9.6" height="9.6" fill="#ff0d02"/><rect x="325.6" y="383.9" width="18.9" height="9.6" fill="#ff3006"/><rect x="344.2" y="383.9" width="18.9" height="9.6" fill="#ff3a07"/><rect x="362.7" y="383.9" width="9.6" height="9.6" fill="#ffc809"/><rect x="372.0" y="383.9" width="18.9" height="9.6" fill="#ffff13"/><rect x="390.6" y="383.9" width="18.9" height="9.6" fill="#ffff12"/><rect x="409.1" y="383.9" width="9.6" height="9.6" fill="#ffff3c"/><rect x="418.4" y="383.9" width="18.9" height="9.6" fill="#ffff10"/><rect x="436.9" y="383.9" width="18.9" height="9.6" fill="#ffb309"/><rect x="455.5" y="383.9" width="9.6" height="9.6" fill="#ffff10"/><rect x="464.8" y="383.9" width="18.9" height="9.6" fill="#ffc909"/><rect x="483.3" y="383.9" width="18.9" height="9.6" fill="#ff670a"/><rect x="501.9" y="383.9" width="9.6" height="9.6" fill="#ffc909"/><rect x="511.1" y="383.9" width="18.9" height="9.6" fill="#ff6a0a"/><rect x="529.7" y="383.9" width="18.9" height="9.6" fill="#ff0100"/><rect x="548.2" y="383.9" width="9.6" height="9.6" fill="#ff3a07"/><rect x="557.5" y="383.9" width="18.9" height="9.6" fill="#f60000"/><rect x="576.1" y="383.9" width="18.9" height="9.6" fill="#ba001b"/><rect x="594.6" y="383.9" width="9.6" height="9.6" fill="#f00000"/><rect x="603.9" y="383.9" width="18.9" height="9.6" fill="#b30020"/><rect x="622.4" y="383.9" width="18.9" height="9.6" fill="#540676"/><rect x="641.0" y="383.9" width="9.6" height="9.6" fill="#730250"/><rect x="650.3" y="383.9" width="18.9" height="9.6" fill="#2408c1"/><rect x="668.8" y="383.9" width="18.9" height="9.6" fill="#2308c4"/><rect x="687.4" y="383.9" width="9.6" height="9.6" fill="#2b08b5"/><rect x="696.6" y="383.9" width="9.6" height="9.6" fill="#1c07cf"/><rect x="112.3" y="393.1" width="18.9" height="9.6" fill="#8f0035"/><rect x="130.9" y="393.1" width="18.9" height="9.6" fill="#86003b"/><rect x="149.4" y="393.1" width="9.6" height="9.6" fill="#77024c"/><rect x="158.7" y="393.1" width="18.9" height="9.6" fill="#69035c"/><rect x="177.2" y="393.1" width="18.9" height="9.6" fill="#5c056c"/><rect x="195.8" y="393.1" width="9.6" height="9.6" fill="#600467"/><rect x="205.1" y="393.1" width="18.9" height="9.6" fill="#610465"/><rect x="223.6" y="393.1" width="18.9" height="9.6" fill="#630463"/><rect x="242.2" y="393.1" width="9.6" height="9.6" fill="#620464"/><rect x="251.4" y="393.1" width="18.9" height="9.6" fill="#68035d"/><rect x="270.0" y="393.1" width="18.9" height="9.6" fill="#8a0038"/><rect x="288.5" y="393.1" width="9.6" height="9.6" fill="#d7000c"/><rect x="297.8" y="393.1" width="18.9" height="9.6" fill="#f00000"/><rect x="316.4" y="393.1" width="18.9" height="9.6" fill="#f40000"/><rect x="334.9" y="393.1" width="9.6" height="9.6" fill="#ff3006"/><rect x="344.2" y="393.1" width="18.9" height="9.6" fill="#ff3a07"/><rect x="362.7" y="393.1" width="18.9" height="9.6" fill="#ff2f06"/><rect x="381.3" y="393.1" width="9.6" height="9.6" fill="#ffff13"/><rect x="390.6" y="393.1" width="18.9" height="9.6" fill="#ffff12"/><rect x="409.1" y="393.1" width="18.9" height="9.6" fill="#ffba09"/><rect x="427.7" y="393.1" width="9.6" height="9.6" fill="#ffff10"/><rect x="436.9" y="393.1" width="18.9" height="9.6" fill="#ffb309"/><rect x="455.5" y="393.1" width="18.9" height="9.6" fill="#ff5b0a"/><rect x="474.0" y="393.1" width="9.6" height="9.6" fill="#ffc909"/><rect x="483.3" y="393.1" width="18.9" height="9.6" fill="#ff670a"/><rect x="501.9" y="393.1" width="18.9" height="9.6" fill="#ff0e02"/><rect x="520.4" y="393.1" width="9.6" height="9.6" fill="#ff6a0a"/><rect x="529.7" y="393.1" width="18.9" height="9.6" fill="#ff0100"/><rect x="548.2" y="393.1" width="18.9" height="9.6" fill="#d3000f"/><rect x="566.8" y="393.1" width="9.6" height="9.6" fill="#f60000"/><rect x="576.1" y="393.1" width="18.9" height="9.6" fill="#ba001b"/><rect x="594.6" y="393.1" width="18.9" height="9.6" fill="#82013f"/><rect x="613.2" y="393.1" width="9.6" height="9.6" fill="#b30020"/><rect x="622.4" y="393.1" width="18.9" height="9.6" fill="#540676"/><rect x="641.0" y="393.1" width="18.9" height="9.6" fill="#1e08cb"/><rect x="659.5" y="393.1" width="9.6" height="9.6" fill="#2408c1"/><rect x="668.8" y="393.1" width="18.9" height="9.6" fill="#2308c4"/><rect x="687.4" y="393.1" width="9.6" height="9.6" fill="#2008c8"/><rect x="112.3" y="402.4" width="9.6" height="9.6" fill="#930033"/><rect x="121.6" y="402.4" width="9.6" height="9.6" fill="#8f0035"/><rect x="130.9" y="402.4" width="18.9" height="9.6" fill="#86003b"/><rect x="149.4" y="402.4" width="18.9" height="9.6" fill="#6f0355"/><rect x="168.0" y="402.4" width="9.6" height="9.6" fill="#69035c"/><rect x="177.2" y="402.4" width="37.4" height="9.6" fill="#5c056c"/><rect x="214.3" y="402.4" width="9.6" height="9.6" fill="#610465"/><rect x="223.6" y="402.4" width="18.9" height="9.6" fill="#630463"/><rect x="242.2" y="402.4" width="18.9" height="9.6" fill="#5e0469"/><rect x="260.7" y="402.4" width="9.6" height="9.6" fill="#68035d"/><rect x="270.0" y="402.4" width="18.9" height="9.6" fill="#8a0038"/><rect x="288.5" y="402.4" width="18.9" height="9.6" fill="#a2002a"/><rect x="307.1" y="402.4" width="9.6" height="9.6" fill="#f00000"/><rect x="316.4" y="402.4" width="18.9" height="9.6" fill="#f40000"/><rect x="334.9" y="402.4" width="18.9" height="9.6" fill="#f50000"/><rect x="353.5" y="402.4" width="9.6" height="9.6" fill="#ff3a07"/><rect x="362.7" y="402.4" width="18.9" height="9.6" fill="#ff2f06"/><rect x="381.3" y="402.4" width="18.9" height="9.6" fill="#ff2505"/><rect x="399.8" y="402.4" width="9.6" height="9.6" fill="#ffff12"/><rect x="409.1" y="402.4" width="18.9" height="9.6" fill="#ffba09"/><rect x="427.7" y="402.4" width="18.9" height="9.6" fill="#ff5b0a"/><rect x="446.2" y="402.4" width="9.6" height="9.6" fill="#ffb309"/><rect x="455.5" y="402.4" width="18.9" height="9.6" fill="#ff5b0a"/><rect x="474.0" y="402.4" width="18.9" height="9.6" fill="#ff0c01"/><rect x="492.6" y="402.4" width="9.6" height="9.6" fill="#ff670a"/><rect x="501.9" y="402.4" width="18.9" height="9.6" fill="#ff0e02"/><rect x="520.4" y="402.4" width="18.9" height="9.6" fill="#dd000a"/><rect x="539.0" y="402.4" width="9.6" height="9.6" fill="#ff0100"/><rect x="548.2" y="402.4" width="18.9" height="9.6" fill="#d3000f"/><rect x="566.8" y="402.4" width="18.9" height="9.6" fill="#7d0145"/><rect x="585.3" y="402.4" width="9.6" height="9.6" fill="#ba001b"/><rect x="594.6" y="402.4" width="18.9" height="9.6" fill="#82013f"/><rect x="613.2" y="402.4" width="18.9" height="9.6" fill="#38089f"/><rect x="631.7" y="402.4" width="9.6" height="9.6" fill="#540676"/><rect x="641.0" y="402.4" width="18.9" height="9.6" fill="#1e08cb"/><rect x="659.5" y="402.4" width="18.9" height="9.6" fill="#2408c1"/><rect x="678.1" y="402.4" width="9.6" height="9.6" fill="#2308c4"/><rect x="687.4" y="402.4" width="9.6" height="9.6" fill="#2008c8"/><rect x="121.6" y="411.7" width="18.9" height="9.6" fill="#8b0038"/><rect x="140.1" y="411.7" width="9.6" height="9.6" fill="#86003b"/><rect x="149.4" y="411.7" width="18.9" height="9.6" fill="#6f0355"/><rect x="168.0" y="411.7" width="18.9" height="9.6" fill="#5a056f"/><rect x="186.5" y="411.7" width="28.1" height="9.6" fill="#5c056c"/><rect x="214.3" y="411.7" width="18.9" height="9.6" fill="#5d056a"/><rect x="232.9" y="411.7" width="9.6" height="9.6" fill="#630463"/><rect x="242.2" y="411.7" width="18.9" height="9.6" fill="#5e0469"/><rect x="260.7" y="411.7" width="18.9" height="9.6" fill="#5c056c"/><rect x="279.3" y="411.7" width="9.6" height="9.6" fill="#8a0038"/><rect x="288.5" y="411.7" width="18.9" height="9.6" fill="#a2002a"/><rect x="307.1" y="411.7" width="18.9" height="9.6" fill="#af0022"/><rect x="325.6" y="411.7" width="9.6" height="9.6" fill="#f40000"/><rect x="334.9" y="411.7" width="18.9" height="9.6" fill="#f50000"/><rect x="353.5" y="411.7" width="18.9" height="9.6" fill="#f10000"/><rect x="372.0" y="411.7" width="9.6" height="9.6" fill="#ff2f06"/><rect x="381.3" y="411.7" width="18.9" height="9.6" fill="#ff2505"/><rect x="399.8" y="411.7" width="18.9" height="9.6" fill="#ff1603"/><rect x="418.4" y="411.7" width="9.6" height="9.6" fill="#ffba09"/><rect x="427.7" y="411.7" width="18.9" height="9.6" fill="#ff5b0a"/><rect x="446.2" y="411.7" width="18.9" height="9.6" fill="#fd0000"/><rect x="464.8" y="411.7" width="9.6" height="9.6" fill="#ff5b0a"/><rect x="474.0" y="411.7" width="18.9" height="9.6" fill="#ff0c01"/><rect x="492.6" y="411.7" width="18.9" height="9.6" fill="#ea0003"/><rect x="511.1" y="411.7" width="9.6" height="9.6" fill="#ff0e02"/><rect x="520.4" y="411.7" width="18.9" height="9.6" fill="#dd000a"/><rect x="539.0" y="411.7" width="18.9" height="9.6" fill="#8f0035"/><rect x="557.5" y="411.7" width="9.6" height="9.6" fill="#d3000f"/><rect x="566.8" y="411.7" width="18.9" height="9.6" fill="#7d0145"/><rect x="585.3" y="411.7" width="18.9" height="9.6" fill="#3d0897"/><rect x="603.9" y="411.7" width="9.6" height="9.6" fill="#82013f"/><rect x="613.2" y="411.7" width="18.9" height="9.6" fill="#38089f"/><rect x="631.7" y="411.7" width="18.9" height="9.6" fill="#1605d9"/><rect x="650.3" y="411.7" width="9.6" height="9.6" fill="#1e08cb"/><rect x="659.5" y="411.7" width="18.9" height="9.6" fill="#2408c1"/><rect x="678.1" y="411.7" width="9.6" height="9.6" fill="#1e08cb"/><rect x="140.1" y="421.0" width="18.9" height="9.6" fill="#76024e"/><rect x="158.7" y="421.0" width="9.6" height="9.6" fill="#6f0355"/><rect x="168.0" y="421.0" width="18.9" height="9.6" fill="#5a056f"/><rect x="186.5" y="421.0" width="18.9" height="9.6" fill="#540677"/><rect x="205.1" y="421.0" width="9.6" height="9.6" fill="#5c056c"/><rect x="214.3" y="421.0" width="18.9" height="9.6" fill="#5d056a"/><rect x="232.9" y="421.0" width="18.9" height="9.6" fill="#460789"/><rect x="251.4" y="421.0" width="9.6" height="9.6" fill="#5e0469"/><rect x="260.7" y="421.0" width="18.9" height="9.6" fill="#5c056c"/><rect x="279.3" y="421.0" width="18.9" height="9.6" fill="#590571"/><rect x="297.8" y="421.0" width="9.6" height="9.6" fill="#a2002a"/><rect x="307.1" y="421.0" width="18.9" height="9.6" fill="#af0022"/><rect x="325.6" y="421.0" width="18.9" height="9.6" fill="#b8001d"/><rect x="344.2" y="421.0" width="9.6" height="9.6" fill="#f50000"/><rect x="353.5" y="421.0" width="18.9" height="9.6" fill="#f10000"/><rect x="372.0" y="421.0" width="18.9" height="9.6" fill="#ee0001"/><rect x="390.6" y="421.0" width="9.6" height="9.6" fill="#ff2505"/><rect x="399.8" y="421.0" width="18.9" height="9.6" fill="#ff1603"/><rect x="418.4" y="421.0" width="18.9" height="9.6" fill="#f70000"/><rect x="436.9" y="421.0" width="9.6" height="9.6" fill="#ff5b0a"/><rect x="446.2" y="421.0" width="18.9" height="9.6" fill="#fd0000"/><rect x="464.8" y="421.0" width="18.9" height="9.6" fill="#ca0013"/><rect x="483.3" y="421.0" width="9.6" height="9.6" fill="#ff0c01"/><rect x="492.6" y="421.0" width="18.9" height="9.6" fill="#ea0003"/><rect x="511.1" y="421.0" width="18.9" height="9.6" fill="#74024f"/><rect x="529.7" y="421.0" width="9.6" height="9.6" fill="#dd000a"/><rect x="539.0" y="421.0" width="18.9" height="9.6" fill="#8f0035"/><rect x="557.5" y="421.0" width="18.9" height="9.6" fill="#45078b"/><rect x="576.1" y="421.0" width="9.6" height="9.6" fill="#7d0145"/><rect x="585.3" y="421.0" width="18.9" height="9.6" fill="#3d0897"/><rect x="603.9" y="421.0" width="18.9" height="9.6" fill="#2108c7"/><rect x="622.4" y="421.0" width="9.6" height="9.6" fill="#38089f"/><rect x="631.7" y="421.0" width="18.9" height="9.6" fill="#1605d9"/><rect x="650.3" y="421.0" width="18.9" height="9.6" fill="#1505db"/><rect x="668.8" y="421.0" width="9.6" height="9.6" fill="#2408c1"/><rect x="678.1" y="421.0" width="9.6" height="9.6" fill="#1e08cb"/><rect x="158.7" y="430.2" width="18.9" height="9.6" fill="#600466"/><rect x="177.2" y="430.2" width="9.6" height="9.6" fill="#5a056f"/><rect x="186.5" y="430.2" width="18.9" height="9.6" fill="#540677"/><rect x="205.1" y="430.2" width="18.9" height="9.6" fill="#4d0680"/><rect x="223.6" y="430.2" width="9.6" height="9.6" fill="#5d056a"/><rect x="232.9" y="430.2" width="18.9" height="9.6" fill="#460789"/><rect x="251.4" y="430.2" width="18.9" height="9.6" fill="#2d08b1"/><rect x="270.0" y="430.2" width="9.6" height="9.6" fill="#5c056c"/><rect x="279.3" y="430.2" width="18.9" height="9.6" fill="#590571"/><rect x="297.8" y="430.2" width="18.9" height="9.6" fill="#5f0468"/><rect x="316.4" y="430.2" width="9.6" height="9.6" fill="#af0022"/><rect x="325.6" y="430.2" width="18.9" height="9.6" fill="#b8001d"/><rect x="344.2" y="430.2" width="18.9" height="9.6" fill="#ad0023"/><rect x="362.7" y="430.2" width="9.6" height="9.6" fill="#f10000"/><rect x="372.0" y="430.2" width="18.9" height="9.6" fill="#ee0001"/><rect x="390.6" y="430.2" width="18.9" height="9.6" fill="#e20007"/><rect x="409.1" y="430.2" width="9.6" height="9.6" fill="#ff1603"/><rect x="418.4" y="430.2" width="18.9" height="9.6" fill="#f70000"/><rect x="436.9" y="430.2" width="18.9" height="9.6" fill="#c30017"/><rect x="455.5" y="430.2" width="9.6" height="9.6" fill="#fd0000"/><rect x="464.8" y="430.2" width="18.9" height="9.6" fill="#ca0013"/><rect x="483.3" y="430.2" width="18.9" height="9.6" fill="#68035d"/><rect x="501.9" y="430.2" width="9.6" height="9.6" fill="#ea0003"/><rect x="511.1" y="430.2" width="18.9" height="9.6" fill="#74024f"/><rect x="529.7" y="430.2" width="18.9" height="9.6" fill="#400892"/><rect x="548.2" y="430.2" width="9.6" height="9.6" fill="#8f0035"/><rect x="557.5" y="430.2" width="18.9" height="9.6" fill="#45078b"/><rect x="576.1" y="430.2" width="18.9" height="9.6" fill="#2308c2"/><rect x="594.6" y="430.2" width="9.6" height="9.6" fill="#3d0897"/><rect x="603.9" y="430.2" width="18.9" height="9.6" fill="#2108c7"/><rect x="622.4" y="430.2" width="18.9" height="9.6" fill="#0f04e4"/><rect x="641.0" y="430.2" width="9.6" height="9.6" fill="#1605d9"/><rect x="650.3" y="430.2" width="18.9" height="9.6" fill="#1505db"/><rect x="668.8" y="430.2" width="9.6" height="9.6" fill="#0d03e9"/><rect x="177.2" y="439.5" width="18.9" height="9.6" fill="#530678"/><rect x="195.8" y="439.5" width="9.6" height="9.6" fill="#540677"/><rect x="205.1" y="439.5" width="18.9" height="9.6" fill="#4d0680"/><rect x="223.6" y="439.5" width="18.9" height="9.6" fill="#3b089b"/><rect x="242.2" y="439.5" width="9.6" height="9.6" fill="#460789"/><rect x="251.4" y="439.5" width="18.9" height="9.6" fill="#2d08b1"/><rect x="270.0" y="439.5" width="18.9" height="9.6" fill="#3108ab"/><rect x="288.5" y="439.5" width="9.6" height="9.6" fill="#590571"/><rect x="297.8" y="439.5" width="18.9" height="9.6" fill="#5f0468"/><rect x="316.4" y="439.5" width="18.9" height="9.6" fill="#700254"/><rect x="334.9" y="439.5" width="9.6" height="9.6" fill="#b8001d"/><rect x="344.2" y="439.5" width="18.9" height="9.6" fill="#ad0023"/><rect x="362.7" y="439.5" width="18.9" height="9.6" fill="#a40029"/><rect x="381.3" y="439.5" width="9.6" height="9.6" fill="#ee0001"/><rect x="390.6" y="439.5" width="18.9" height="9.6" fill="#e20007"/><rect x="409.1" y="439.5" width="18.9" height="9.6" fill="#ae0022"/><rect x="427.7" y="439.5" width="9.6" height="9.6" fill="#f70000"/><rect x="436.9" y="439.5" width="18.9" height="9.6" fill="#c30017"/><rect x="455.5" y="439.5" width="18.9" height="9.6" fill="#6e0357"/><rect x="474.0" y="439.5" width="9.6" height="9.6" fill="#ca0013"/><rect x="483.3" y="439.5" width="18.9" height="9.6" fill="#68035d"/><rect x="501.9" y="439.5" width="18.9" height="9.6" fill="#2f08ae"/><rect x="520.4" y="439.5" width="9.6" height="9.6" fill="#74024f"/><rect x="529.7" y="439.5" width="18.9" height="9.6" fill="#400892"/><rect x="548.2" y="439.5" width="18.9" height="9.6" fill="#2708bc"/><rect x="566.8" y="439.5" width="9.6" height="9.6" fill="#45078b"/><rect x="576.1" y="439.5" width="18.9" height="9.6" fill="#2308c2"/><rect x="594.6" y="439.5" width="18.9" height="9.6" fill="#1405dd"/><rect x="613.2" y="439.5" width="9.6" height="9.6" fill="#2108c7"/><rect x="622.4" y="439.5" width="18.9" height="9.6" fill="#0f04e4"/><rect x="641.0" y="439.5" width="18.9" height="9.6" fill="#0201fb"/><rect x="659.5" y="439.5" width="9.6" height="9.6" fill="#1505db"/><rect x="668.8" y="439.5" width="9.6" height="9.6" fill="#0d03e9"/><rect x="195.8" y="448.8" width="18.9" height="9.6" fill="#480788"/><rect x="214.3" y="448.8" width="9.6" height="9.6" fill="#4d0680"/><rect x="223.6" y="448.8" width="18.9" height="9.6" fill="#3b089b"/><rect x="242.2" y="448.8" width="18.9" height="9.6" fill="#2a08b7"/><rect x="260.7" y="448.8" width="9.6" height="9.6" fill="#2d08b1"/><rect x="270.0" y="448.8" width="18.9" height="9.6" fill="#3108ab"/><rect x="288.5" y="448.8" width="18.9" height="9.6" fill="#39089d"/><rect x="307.1" y="448.8" width="9.6" height="9.6" fill="#5f0468"/><rect x="316.4" y="448.8" width="18.9" height="9.6" fill="#700254"/><rect x="334.9" y="448.8" width="18.9" height="9.6" fill="#6a035b"/><rect x="353.5" y="448.8" width="9.6" height="9.6" fill="#ad0023"/><rect x="362.7" y="448.8" width="18.9" height="9.6" fill="#a40029"/><rect x="381.3" y="448.8" width="18.9" height="9.6" fill="#a90026"/><rect x="399.8" y="448.8" width="9.6" height="9.6" fill="#e20007"/><rect x="409.1" y="448.8" width="18.9" height="9.6" fill="#ae0022"/><rect x="427.7" y="448.8" width="18.9" height="9.6" fill="#730251"/><rect x="446.2" y="448.8" width="9.6" height="9.6" fill="#c30017"/><rect x="455.5" y="448.8" width="18.9" height="9.6" fill="#6e0357"/><rect x="474.0" y="448.8" width="18.9" height="9.6" fill="#3108ac"/><rect x="492.6" y="448.8" width="9.6" height="9.6" fill="#68035d"/><rect x="501.9" y="448.8" width="18.9" height="9.6" fill="#2f08ae"/><rect x="520.4" y="448.8" width="18.9" height="9.6" fill="#2108c7"/><rect x="539.0" y="448.8" width="9.6" height="9.6" fill="#400892"/><rect x="548.2" y="448.8" width="18.9" height="9.6" fill="#2708bc"/><rect x="566.8" y="448.8" width="18.9" height="9.6" fill="#1405dc"/><rect x="585.3" y="448.8" width="9.6" height="9.6" fill="#2308c2"/><rect x="594.6" y="448.8" width="18.9" height="9.6" fill="#1405dd"/><rect x="613.2" y="448.8" width="18.9" height="9.6" fill="#0f04e5"/><rect x="631.7" y="448.8" width="9.6" height="9.6" fill="#0f04e4"/><rect x="641.0" y="448.8" width="18.9" height="9.6" fill="#0201fb"/><rect x="659.5" y="448.8" width="9.6" height="9.6" fill="#0000e8"/><rect x="214.3" y="458.1" width="18.9" height="9.6" fill="#3b089a"/><rect x="232.9" y="458.1" width="9.6" height="9.6" fill="#3b089b"/><rect x="242.2" y="458.1" width="18.9" height="9.6" fill="#2a08b7"/><rect x="260.7" y="458.1" width="18.9" height="9.6" fill="#3408a7"/><rect x="279.3" y="458.1" width="9.6" height="9.6" fill="#3108ab"/><rect x="288.5" y="458.1" width="18.9" height="9.6" fill="#39089d"/><rect x="307.1" y="458.1" width="18.9" height="9.6" fill="#2f08af"/><rect x="325.6" y="458.1" width="9.6" height="9.6" fill="#700254"/><rect x="334.9" y="458.1" width="18.9" height="9.6" fill="#6a035b"/><rect x="353.5" y="458.1" width="18.9" height="9.6" fill="#470788"/><rect x="372.0" y="458.1" width="9.6" height="9.6" fill="#a40029"/><rect x="381.3" y="458.1" width="18.9" height="9.6" fill="#a90026"/><rect x="399.8" y="458.1" width="18.9" height="9.6" fill="#710253"/><rect x="418.4" y="458.1" width="9.6" height="9.6" fill="#ae0022"/><rect x="427.7" y="458.1" width="18.9" height="9.6" fill="#730251"/><rect x="446.2" y="458.1" width="18.9" height="9.6" fill="#3508a4"/><rect x="464.8" y="458.1" width="9.6" height="9.6" fill="#6e0357"/><rect x="474.0" y="458.1" width="18.9" height="9.6" fill="#3108ac"/><rect x="492.6" y="458.1" width="18.9" height="9.6" fill="#1806d6"/><rect x="511.1" y="458.1" width="9.6" height="9.6" fill="#2f08ae"/><rect x="520.4" y="458.1" width="18.9" height="9.6" fill="#2108c7"/><rect x="539.0" y="458.1" width="18.9" height="9.6" fill="#1405dd"/><rect x="557.5" y="458.1" width="9.6" height="9.6" fill="#2708bc"/><rect x="566.8" y="458.1" width="18.9" height="9.6" fill="#1405dc"/><rect x="585.3" y="458.1" width="18.9" height="9.6" fill="#0b03ec"/><rect x="603.9" y="458.1" width="9.6" height="9.6" fill="#1405dd"/><rect x="613.2" y="458.1" width="18.9" height="9.6" fill="#0f04e5"/><rect x="631.7" y="458.1" width="18.9" height="9.6" fill="#0000f6"/><rect x="650.3" y="458.1" width="9.6" height="9.6" fill="#0201fb"/><rect x="659.5" y="458.1" width="9.6" height="9.6" fill="#0000e8"/><rect x="232.9" y="467.3" width="18.9" height="9.6" fill="#3308a7"/><rect x="251.4" y="467.3" width="9.6" height="9.6" fill="#2a08b7"/><rect x="260.7" y="467.3" width="18.9" height="9.6" fill="#3408a7"/><rect x="279.3" y="467.3" width="18.9" height="9.6" fill="#3608a3"/><rect x="297.8" y="467.3" width="9.6" height="9.6" fill="#39089d"/><rect x="307.1" y="467.3" width="18.9" height="9.6" fill="#2f08af"/><rect x="325.6" y="467.3" width="18.9" height="9.6" fill="#3a089c"/><rect x="344.2" y="467.3" width="9.6" height="9.6" fill="#6a035b"/><rect x="353.5" y="467.3" width="18.9" height="9.6" fill="#470788"/><rect x="372.0" y="467.3" width="18.9" height="9.6" fill="#52067a"/><rect x="390.6" y="467.3" width="9.6" height="9.6" fill="#a90026"/><rect x="399.8" y="467.3" width="18.9" height="9.6" fill="#710253"/><rect x="418.4" y="467.3" width="18.9" height="9.6" fill="#3508a4"/><rect x="436.9" y="467.3" width="9.6" height="9.6" fill="#730251"/><rect x="446.2" y="467.3" width="18.9" height="9.6" fill="#3508a4"/><rect x="464.8" y="467.3" width="18.9" height="9.6" fill="#1606d9"/><rect x="483.3" y="467.3" width="9.6" height="9.6" fill="#3108ac"/><rect x="492.6" y="467.3" width="18.9" height="9.6" fill="#1806d6"/><rect x="511.1" y="467.3" width="18.9" height="9.6" fill="#0a03ed"/><rect x="529.7" y="467.3" width="9.6" height="9.6" fill="#2108c7"/><rect x="539.0" y="467.3" width="18.9" height="9.6" fill="#1405dd"/><rect x="557.5" y="467.3" width="18.9" height="9.6" fill="#0902ef"/><rect x="576.1" y="467.3" width="9.6" height="9.6" fill="#1405dc"/><rect x="585.3" y="467.3" width="18.9" height="9.6" fill="#0b03ec"/><rect x="603.9" y="467.3" width="18.9" height="9.6" fill="#0301f9"/><rect x="622.4" y="467.3" width="9.6" height="9.6" fill="#0f04e5"/><rect x="631.7" y="467.3" width="18.9" height="9.6" fill="#0000f6"/><rect x="650.3" y="467.3" width="9.6" height="9.6" fill="#0000c8"/><rect x="251.4" y="476.6" width="18.9" height="9.6" fill="#3508a5"/><rect x="270.0" y="476.6" width="9.6" height="9.6" fill="#3408a7"/><rect x="279.3" y="476.6" width="18.9" height="9.6" fill="#3608a3"/><rect x="297.8" y="476.6" width="18.9" height="9.6" fill="#2008c8"/><rect x="316.4" y="476.6" width="9.6" height="9.6" fill="#2f08af"/><rect x="325.6" y="476.6" width="18.9" height="9.6" fill="#3a089c"/><rect x="344.2" y="476.6" width="18.9" height="9.6" fill="#1c07cf"/><rect x="362.7" y="476.6" width="9.6" height="9.6" fill="#470788"/><rect x="372.0" y="476.6" width="18.9" height="9.6" fill="#52067a"/><rect x="390.6" y="476.6" width="18.9" height="9.6" fill="#3708a2"/><rect x="409.1" y="476.6" width="9.6" height="9.6" fill="#710253"/><rect x="418.4" y="476.6" width="18.9" height="9.6" fill="#3508a4"/><rect x="436.9" y="476.6" width="18.9" height="9.6" fill="#1e08cb"/><rect x="455.5" y="476.6" width="9.6" height="9.6" fill="#3508a4"/><rect x="464.8" y="476.6" width="18.9" height="9.6" fill="#1606d9"/><rect x="483.3" y="476.6" width="18.9" height="9.6" fill="#0902ef"/><rect x="501.9" y="476.6" width="9.6" height="9.6" fill="#1806d6"/><rect x="511.1" y="476.6" width="18.9" height="9.6" fill="#0a03ed"/><rect x="529.7" y="476.6" width="18.9" height="9.6" fill="#0501f6"/><rect x="548.2" y="476.6" width="9.6" height="9.6" fill="#1405dd"/><rect x="557.5" y="476.6" width="18.9" height="9.6" fill="#0902ef"/><rect x="576.1" y="476.6" width="18.9" height="9.6" fill="#0100fd"/><rect x="594.6" y="476.6" width="9.6" height="9.6" fill="#0b03ec"/><rect x="603.9" y="476.6" width="18.9" height="9.6" fill="#0301f9"/><rect x="622.4" y="476.6" width="18.9" height="9.6" fill="#0000e2"/><rect x="641.0" y="476.6" width="9.6" height="9.6" fill="#0000f6"/><rect x="650.3" y="476.6" width="9.6" height="9.6" fill="#0000c8"/><rect x="270.0" y="485.9" width="18.9" height="9.6" fill="#3208aa"/><rect x="288.5" y="485.9" width="9.6" height="9.6" fill="#3608a3"/><rect x="297.8" y="485.9" width="18.9" height="9.6" fill="#2008c8"/><rect x="316.4" y="485.9" width="18.9" height="9.6" fill="#2108c6"/><rect x="334.9" y="485.9" width="9.6" height="9.6" fill="#3a089c"/><rect x="344.2" y="485.9" width="18.9" height="9.6" fill="#1c07cf"/><rect x="362.7" y="485.9" width="18.9" height="9.6" fill="#1806d6"/><rect x="381.3" y="485.9" width="9.6" height="9.6" fill="#52067a"/><rect x="390.6" y="485.9" width="18.9" height="9.6" fill="#3708a2"/><rect x="409.1" y="485.9" width="18.9" height="9.6" fill="#1c07d0"/><rect x="427.7" y="485.9" width="9.6" height="9.6" fill="#3508a4"/><rect x="436.9" y="485.9" width="18.9" height="9.6" fill="#1e08cb"/><rect x="455.5" y="485.9" width="18.9" height="9.6" fill="#0802f1"/><rect x="474.0" y="485.9" width="9.6" height="9.6" fill="#1606d9"/><rect x="483.3" y="485.9" width="18.9" height="9.6" fill="#0902ef"/><rect x="501.9" y="485.9" width="18.9" height="9.6" fill="#0100fe"/><rect x="520.4" y="485.9" width="9.6" height="9.6" fill="#0a03ed"/><rect x="529.7" y="485.9" width="18.9" height="9.6" fill="#0501f6"/><rect x="548.2" y="485.9" width="18.9" height="9.6" fill="#0100fe"/><rect x="566.8" y="485.9" width="9.6" height="9.6" fill="#0902ef"/><rect x="576.1" y="485.9" width="18.9" height="9.6" fill="#0100fd"/><rect x="594.6" y="485.9" width="18.9" height="9.6" fill="#0000e9"/><rect x="613.2" y="485.9" width="9.6" height="9.6" fill="#0301f9"/><rect x="622.4" y="485.9" width="18.9" height="9.6" fill="#0000e2"/><rect x="641.0" y="485.9" width="9.6" height="9.6" fill="#0000b6"/><rect x="288.5" y="495.2" width="18.9" height="9.6" fill="#2608bd"/><rect x="307.1" y="495.2" width="9.6" height="9.6" fill="#2008c8"/><rect x="316.4" y="495.2" width="18.9" height="9.6" fill="#2108c6"/><rect x="334.9" y="495.2" width="18.9" height="9.6" fill="#1706d7"/><rect x="353.5" y="495.2" width="9.6" height="9.6" fill="#1c07cf"/><rect x="362.7" y="495.2" width="18.9" height="9.6" fill="#1806d6"/><rect x="381.3" y="495.2" width="18.9" height="9.6" fill="#1605da"/><rect x="399.8" y="495.2" width="9.6" height="9.6" fill="#3708a2"/><rect x="409.1" y="495.2" width="18.9" height="9.6" fill="#1c07d0"/><rect x="427.7" y="495.2" width="18.9" height="9.6" fill="#0802f1"/><rect x="446.2" y="495.2" width="9.6" height="9.6" fill="#1e08cb"/><rect x="455.5" y="495.2" width="18.9" height="9.6" fill="#0802f1"/><rect x="474.0" y="495.2" width="18.9" height="9.6" fill="#0000fc"/><rect x="492.6" y="495.2" width="9.6" height="9.6" fill="#0902ef"/><rect x="501.9" y="495.2" width="18.9" height="9.6" fill="#0100fe"/><rect x="520.4" y="495.2" width="18.9" height="9.6" fill="#0000fb"/><rect x="539.0" y="495.2" width="9.6" height="9.6" fill="#0501f6"/><rect x="548.2" y="495.2" width="18.9" height="9.6" fill="#0100fe"/><rect x="566.8" y="495.2" width="18.9" height="9.6" fill="#0000f4"/><rect x="585.3" y="495.2" width="9.6" height="9.6" fill="#0100fd"/><rect x="594.6" y="495.2" width="18.9" height="9.6" fill="#0000e9"/><rect x="613.2" y="495.2" width="18.9" height="9.6" fill="#0000c1"/><rect x="631.7" y="495.2" width="9.6" height="9.6" fill="#0000e2"/><rect x="641.0" y="495.2" width="9.6" height="9.6" fill="#0000b6"/><rect x="307.1" y="504.4" width="18.9" height="9.6" fill="#2008c8"/><rect x="325.6" y="504.4" width="9.6" height="9.6" fill="#2108c6"/><rect x="334.9" y="504.4" width="18.9" height="9.6" fill="#1706d7"/><rect x="353.5" y="504.4" width="18.9" height="9.6" fill="#0e03e8"/><rect x="372.0" y="504.4" width="9.6" height="9.6" fill="#1806d6"/><rect x="381.3" y="504.4" width="18.9" height="9.6" fill="#1605da"/><rect x="399.8" y="504.4" width="18.9" height="9.6" fill="#0902ef"/><rect x="418.4" y="504.4" width="9.6" height="9.6" fill="#1c07d0"/><rect x="427.7" y="504.4" width="18.9" height="9.6" fill="#0802f1"/><rect x="446.2" y="504.4" width="18.9" height="9.6" fill="#0000fb"/><rect x="464.8" y="504.4" width="9.6" height="9.6" fill="#0802f1"/><rect x="474.0" y="504.4" width="18.9" height="9.6" fill="#0000fc"/><rect x="492.6" y="504.4" width="18.9" height="9.6" fill="#0000f5"/><rect x="511.1" y="504.4" width="9.6" height="9.6" fill="#0100fe"/><rect x="520.4" y="504.4" width="18.9" height="9.6" fill="#0000fb"/><rect x="539.0" y="504.4" width="18.9" height="9.6" fill="#0000f3"/><rect x="557.5" y="504.4" width="9.6" height="9.6" fill="#0100fe"/><rect x="566.8" y="504.4" width="18.9" height="9.6" fill="#0000f4"/><rect x="585.3" y="504.4" width="18.9" height="9.6" fill="#0000d7"/><rect x="603.9" y="504.4" width="9.6" height="9.6" fill="#0000e9"/><rect x="613.2" y="504.4" width="18.9" height="9.6" fill="#0000c1"/><rect x="631.7" y="504.4" width="9.6" height="9.6" fill="#00009d"/><rect x="325.6" y="513.7" width="18.9" height="9.6" fill="#1806d5"/><rect x="344.2" y="513.7" width="9.6" height="9.6" fill="#1706d7"/><rect x="353.5" y="513.7" width="18.9" height="9.6" fill="#0e03e8"/><rect x="372.0" y="513.7" width="18.9" height="9.6" fill="#0b03ed"/><rect x="390.6" y="513.7" width="9.6" height="9.6" fill="#1605da"/><rect x="399.8" y="513.7" width="18.9" height="9.6" fill="#0902ef"/><rect x="418.4" y="513.7" width="18.9" height="9.6" fill="#0000fa"/><rect x="436.9" y="513.7" width="9.6" height="9.6" fill="#0802f1"/><rect x="446.2" y="513.7" width="18.9" height="9.6" fill="#0000fb"/><rect x="464.8" y="513.7" width="18.9" height="9.6" fill="#0000f3"/><rect x="483.3" y="513.7" width="9.6" height="9.6" fill="#0000fc"/><rect x="492.6" y="513.7" width="18.9" height="9.6" fill="#0000f5"/><rect x="511.1" y="513.7" width="18.9" height="9.6" fill="#0000f1"/><rect x="529.7" y="513.7" width="9.6" height="9.6" fill="#0000fb"/><rect x="539.0" y="513.7" width="18.9" height="9.6" fill="#0000f3"/><rect x="557.5" y="513.7" width="18.9" height="9.6" fill="#0000e4"/><rect x="576.1" y="513.7" width="9.6" height="9.6" fill="#0000f4"/><rect x="585.3" y="513.7" width="18.9" height="9.6" fill="#0000d7"/><rect x="603.9" y="513.7" width="18.9" height="9.6" fill="#0000ad"/><rect x="622.4" y="513.7" width="9.6" height="9.6" fill="#0000c1"/><rect x="631.7" y="513.7" width="9.6" height="9.6" fill="#00009d"/><rect x="344.2" y="523.0" width="18.9" height="9.6" fill="#1004e4"/><rect x="362.7" y="523.0" width="9.6" height="9.6" fill="#0e03e8"/><rect x="372.0" y="523.0" width="18.9" height="9.6" fill="#0b03ed"/><rect x="390.6" y="523.0" width="18.9" height="9.6" fill="#0501f7"/><rect x="409.1" y="523.0" width="9.6" height="9.6" fill="#0902ef"/><rect x="418.4" y="523.0" width="18.9" height="9.6" fill="#0000fa"/><rect x="436.9" y="523.0" width="18.9" height="9.6" fill="#0000f5"/><rect x="455.5" y="523.0" width="9.6" height="9.6" fill="#0000fb"/><rect x="464.8" y="523.0" width="18.9" height="9.6" fill="#0000f3"/><rect x="483.3" y="523.0" width="18.9" height="9.6" fill="#0000f0"/><rect x="501.9" y="523.0" width="9.6" height="9.6" fill="#0000f5"/><rect x="511.1" y="523.0" width="18.9" height="9.6" fill="#0000f1"/><rect x="529.7" y="523.0" width="18.9" height="9.6" fill="#0000e5"/><rect x="548.2" y="523.0" width="9.6" height="9.6" fill="#0000f3"/><rect x="557.5" y="523.0" width="18.9" height="9.6" fill="#0000e4"/><rect x="576.1" y="523.0" width="18.9" height="9.6" fill="#0000c8"/><rect x="594.6" y="523.0" width="9.6" height="9.6" fill="#0000d7"/><rect x="603.9" y="523.0" width="18.9" height="9.6" fill="#0000ad"/><rect x="622.4" y="523.0" width="9.6" height="9.6" fill="#00008b"/><rect x="362.7" y="532.3" width="18.9" height="9.6" fill="#0a03ed"/><rect x="381.3" y="532.3" width="9.6" height="9.6" fill="#0b03ed"/><rect x="390.6" y="532.3" width="18.9" height="9.6" fill="#0501f7"/><rect x="409.1" y="532.3" width="18.9" height="9.6" fill="#0100fe"/><rect x="427.7" y="532.3" width="9.6" height="9.6" fill="#0000fa"/><rect x="436.9" y="532.3" width="37.4" height="9.6" fill="#0000f5"/><rect x="474.0" y="532.3" width="9.6" height="9.6" fill="#0000f3"/><rect x="483.3" y="532.3" width="18.9" height="9.6" fill="#0000f0"/><rect x="501.9" y="532.3" width="18.9" height="9.6" fill="#0000ea"/><rect x="520.4" y="532.3" width="9.6" height="9.6" fill="#0000f1"/><rect x="529.7" y="532.3" width="18.9" height="9.6" fill="#0000e5"/><rect x="548.2" y="532.3" width="18.9" height="9.6" fill="#0000d0"/><rect x="566.8" y="532.3" width="9.6" height="9.6" fill="#0000e4"/><rect x="576.1" y="532.3" width="18.9" height="9.6" fill="#0000c8"/><rect x="594.6" y="532.3" width="18.9" height="9.6" fill="#0000a6"/><rect x="613.2" y="532.3" width="9.6" height="9.6" fill="#0000ad"/><rect x="622.4" y="532.3" width="9.6" height="9.6" fill="#00008b"/><rect x="381.3" y="541.5" width="18.9" height="9.6" fill="#0702f3"/><rect x="399.8" y="541.5" width="9.6" height="9.6" fill="#0501f7"/><rect x="409.1" y="541.5" width="18.9" height="9.6" fill="#0100fe"/><rect x="427.7" y="541.5" width="18.9" height="9.6" fill="#0000fe"/><rect x="446.2" y="541.5" width="28.1" height="9.6" fill="#0000f5"/><rect x="474.0" y="541.5" width="18.9" height="9.6" fill="#0000f3"/><rect x="492.6" y="541.5" width="9.6" height="9.6" fill="#0000f0"/><rect x="501.9" y="541.5" width="18.9" height="9.6" fill="#0000ea"/><rect x="520.4" y="541.5" width="18.9" height="9.6" fill="#0000dc"/><rect x="539.0" y="541.5" width="9.6" height="9.6" fill="#0000e5"/><rect x="548.2" y="541.5" width="18.9" height="9.6" fill="#0000d0"/><rect x="566.8" y="541.5" width="18.9" height="9.6" fill="#0000b6"/><rect x="585.3" y="541.5" width="9.6" height="9.6" fill="#0000c8"/><rect x="594.6" y="541.5" width="18.9" height="9.6" fill="#0000a6"/><rect x="613.2" y="541.5" width="9.6" height="9.6" fill="#00008a"/><rect x="399.8" y="550.8" width="18.9" height="9.6" fill="#0601f5"/><rect x="418.4" y="550.8" width="9.6" height="9.6" fill="#0100fe"/><rect x="427.7" y="550.8" width="18.9" height="9.6" fill="#0000fe"/><rect x="446.2" y="550.8" width="18.9" height="9.6" fill="#0000ff"/><rect x="464.8" y="550.8" width="9.6" height="9.6" fill="#0000f5"/><rect x="474.0" y="550.8" width="18.9" height="9.6" fill="#0000f3"/><rect x="492.6" y="550.8" width="18.9" height="9.6" fill="#0000ee"/><rect x="511.1" y="550.8" width="9.6" height="9.6" fill="#0000ea"/><rect x="520.4" y="550.8" width="18.9" height="9.6" fill="#0000dc"/><rect x="539.0" y="550.8" width="18.9" height="9.6" fill="#0000c4"/><rect x="557.5" y="550.8" width="9.6" height="9.6" fill="#0000d0"/><rect x="566.8" y="550.8" width="18.9" height="9.6" fill="#0000b6"/><rect x="585.3" y="550.8" width="18.9" height="9.6" fill="#00009e"/><rect x="603.9" y="550.8" width="9.6" height="9.6" fill="#0000a6"/><rect x="613.2" y="550.8" width="9.6" height="9.6" fill="#00008a"/><rect x="418.4" y="560.1" width="18.9" height="9.6" fill="#0601f5"/><rect x="436.9" y="560.1" width="9.6" height="9.6" fill="#0000fe"/><rect x="446.2" y="560.1" width="18.9" height="9.6" fill="#0000ff"/><rect x="464.8" y="560.1" width="18.9" height="9.6" fill="#0000fd"/><rect x="483.3" y="560.1" width="9.6" height="9.6" fill="#0000f3"/><rect x="492.6" y="560.1" width="18.9" height="9.6" fill="#0000ee"/><rect x="511.1" y="560.1" width="18.9" height="9.6" fill="#0000e1"/><rect x="529.7" y="560.1" width="9.6" height="9.6" fill="#0000dc"/><rect x="539.0" y="560.1" width="18.9" height="9.6" fill="#0000c4"/><rect x="557.5" y="560.1" width="18.9" height="9.6" fill="#0000ab"/><rect x="576.1" y="560.1" width="9.6" height="9.6" fill="#0000b6"/><rect x="585.3" y="560.1" width="18.9" height="9.6" fill="#00009e"/><rect x="603.9" y="560.1" width="9.6" height="9.6" fill="#000090"/><rect x="436.9" y="569.4" width="18.9" height="9.6" fill="#0602f5"/><rect x="455.5" y="569.4" width="9.6" height="9.6" fill="#0000ff"/><rect x="464.8" y="569.4" width="18.9" height="9.6" fill="#0000fd"/><rect x="483.3" y="569.4" width="18.9" height="9.6" fill="#0000f9"/><rect x="501.9" y="569.4" width="9.6" height="9.6" fill="#0000ee"/><rect x="511.1" y="569.4" width="18.9" height="9.6" fill="#0000e1"/><rect x="529.7" y="569.4" width="18.9" height="9.6" fill="#0000c8"/><rect x="548.2" y="569.4" width="9.6" height="9.6" fill="#0000c4"/><rect x="557.5" y="569.4" width="18.9" height="9.6" fill="#0000ab"/><rect x="576.1" y="569.4" width="28.1" height="9.6" fill="#00009e"/><rect x="603.9" y="569.4" width="9.6" height="9.6" fill="#000090"/><rect x="455.5" y="578.6" width="18.9" height="9.6" fill="#0501f6"/><rect x="474.0" y="578.6" width="9.6" height="9.6" fill="#0000fd"/><rect x="483.3" y="578.6" width="18.9" height="9.6" fill="#0000f9"/><rect x="501.9" y="578.6" width="18.9" height="9.6" fill="#0000f0"/><rect x="520.4" y="578.6" width="9.6" height="9.6" fill="#0000e1"/><rect x="529.7" y="578.6" width="18.9" height="9.6" fill="#0000c8"/><rect x="548.2" y="578.6" width="18.9" height="9.6" fill="#0000aa"/><rect x="566.8" y="578.6" width="9.6" height="9.6" fill="#0000ab"/><rect x="576.1" y="578.6" width="18.9" height="9.6" fill="#00009e"/><rect x="594.6" y="578.6" width="9.6" height="9.6" fill="#00009f"/><rect x="474.0" y="587.9" width="18.9" height="9.6" fill="#0301f9"/><rect x="492.6" y="587.9" width="9.6" height="9.6" fill="#0000f9"/><rect x="501.9" y="587.9" width="18.9" height="9.6" fill="#0000f0"/><rect x="520.4" y="587.9" width="18.9" height="9.6" fill="#0000de"/><rect x="539.0" y="587.9" width="9.6" height="9.6" fill="#0000c8"/><rect x="548.2" y="587.9" width="18.9" height="9.6" fill="#0000aa"/><rect x="566.8" y="587.9" width="18.9" height="9.6" fill="#0000ad"/><rect x="585.3" y="587.9" width="9.6" height="9.6" fill="#00009e"/><rect x="594.6" y="587.9" width="9.6" height="9.6" fill="#00009f"/><rect x="492.6" y="597.2" width="18.9" height="9.6" fill="#0000fe"/><rect x="511.1" y="597.2" width="9.6" height="9.6" fill="#0000f0"/><rect x="520.4" y="597.2" width="18.9" height="9.6" fill="#0000de"/><rect x="539.0" y="597.2" width="18.9" height="9.6" fill="#0000c2"/><rect x="557.5" y="597.2" width="9.6" height="9.6" fill="#0000aa"/><rect x="566.8" y="597.2" width="18.9" height="9.6" fill="#0000ad"/><rect x="585.3" y="597.2" width="9.6" height="9.6" fill="#0000b9"/><rect x="511.1" y="606.5" width="18.9" height="9.6" fill="#0000f2"/><rect x="529.7" y="606.5" width="9.6" height="9.6" fill="#0000de"/><rect x="539.0" y="606.5" width="18.9" height="9.6" fill="#0000c2"/><rect x="557.5" y="606.5" width="18.9" height="9.6" fill="#0000c9"/><rect x="576.1" y="606.5" width="9.6" height="9.6" fill="#0000ad"/><rect x="585.3" y="606.5" width="9.6" height="9.6" fill="#0000b9"/><rect x="529.7" y="615.7" width="18.9" height="9.6" fill="#0000e4"/><rect x="548.2" y="615.7" width="9.6" height="9.6" fill="#0000c2"/><rect x="557.5" y="615.7" width="18.9" height="9.6" fill="#0000c9"/><rect x="576.1" y="615.7" width="9.6" height="9.6" fill="#0000d3"/><rect x="548.2" y="625.0" width="18.9" height="9.6" fill="#0000e0"/><rect x="566.8" y="625.0" width="9.6" height="9.6" fill="#0000c9"/><rect x="576.1" y="625.0" width="9.6" height="9.6" fill="#0000d3"/></g>
<rect x="132.0" y="16.8" width="632.8" height="605.2" fill="none" stroke="#000" stroke-width="2.6"/>
<path d="M137.9 16.8V21.1M151.0 16.8V21.1M164.0 16.8V21.1M177.0 16.8V21.1M203.0 16.8V21.1M216.0 16.8V21.1M229.0 16.8V21.1M242.1 16.8V21.1M268.1 16.8V21.1M281.1 16.8V21.1M294.1 16.8V21.1M307.1 16.8V21.1M333.2 16.8V21.1M346.2 16.8V21.1M359.2 16.8V21.1M372.2 16.8V21.1M398.2 16.8V21.1M411.2 16.8V21.1M424.3 16.8V21.1M437.3 16.8V21.1M463.3 16.8V21.1M476.3 16.8V21.1M489.3 16.8V21.1M502.3 16.8V21.1M528.4 16.8V21.1M541.4 16.8V21.1M554.4 16.8V21.1M567.4 16.8V21.1M593.4 16.8V21.1M606.4 16.8V21.1M619.5 16.8V21.1M632.5 16.8V21.1M658.5 16.8V21.1M671.5 16.8V21.1M684.5 16.8V21.1M697.5 16.8V21.1M723.6 16.8V21.1M736.6 16.8V21.1M749.6 16.8V21.1M762.6 16.8V21.1" stroke="#000" stroke-width="2.4" fill="none"/><path d="M190.0 16.8V26.0M255.1 16.8V26.0M320.1 16.8V26.0M385.2 16.8V26.0M450.3 16.8V26.0M515.3 16.8V26.0M580.4 16.8V26.0M645.5 16.8V26.0M710.6 16.8V26.0" stroke="#000" stroke-width="2.4" fill="none"/><path d="M143.1 622.0V617.7M155.9 622.0V617.7M168.7 622.0V617.7M181.5 622.0V617.7M207.1 622.0V617.7M219.9 622.0V617.7M232.7 622.0V617.7M245.5 622.0V617.7M271.1 622.0V617.7M283.9 622.0V617.7M296.7 622.0V617.7M309.5 622.0V617.7M335.1 622.0V617.7M347.9 622.0V617.7M360.7 622.0V617.7M373.5 622.0V617.7M399.1 622.0V617.7M411.9 622.0V617.7M424.7 622.0V617.7M437.5 622.0V617.7M463.1 622.0V617.7M475.9 622.0V617.7M488.7 622.0V617.7M501.5 622.0V617.7M527.1 622.0V617.7M539.9 622.0V617.7M552.7 622.0V617.7M565.5 622.0V617.7M591.1 622.0V617.7M603.9 622.0V617.7M616.7 622.0V617.7M629.5 622.0V617.7M655.1 622.0V617.7M667.9 622.0V617.7M680.7 622.0V617.7M693.5 622.0V617.7M719.1 622.0V617.7M731.9 622.0V617.7M744.7 622.0V617.7M757.5 622.0V617.7" stroke="#000" stroke-width="2.4" fill="none"/><path d="M194.3 622.0V612.8M258.3 622.0V612.8M322.3 622.0V612.8M386.3 622.0V612.8M450.3 622.0V612.8M514.3 622.0V612.8M578.3 622.0V612.8M642.3 622.0V612.8M706.3 622.0V612.8" stroke="#000" stroke-width="2.4" fill="none"/><path d="M132.0 24.7H136.3M132.0 45.3H136.3M132.0 66.0H136.3M132.0 107.4H136.3M132.0 128.1H136.3M132.0 148.7H136.3M132.0 169.4H136.3M132.0 210.8H136.3M132.0 231.5H136.3M132.0 252.1H136.3M132.0 272.8H136.3M132.0 314.2H136.3M132.0 334.9H136.3M132.0 355.5H136.3M132.0 376.2H136.3M132.0 417.6H136.3M132.0 438.3H136.3M132.0 458.9H136.3M132.0 479.6H136.3M132.0 521.0H136.3M132.0 541.7H136.3M132.0 562.3H136.3M132.0 583.0H136.3" stroke="#000" stroke-width="2.4" fill="none"/><path d="M132.0 86.7H141.2M132.0 190.1H141.2M132.0 293.5H141.2M132.0 396.9H141.2M132.0 500.3H141.2M132.0 603.7H141.2" stroke="#000" stroke-width="2.4" fill="none"/><path d="M764.8 24.7H760.5M764.8 45.3H760.5M764.8 66.0H760.5M764.8 107.4H760.5M764.8 128.1H760.5M764.8 148.7H760.5M764.8 169.4H760.5M764.8 210.8H760.5M764.8 231.5H760.5M764.8 252.1H760.5M764.8 272.8H760.5M764.8 314.2H760.5M764.8 334.9H760.5M764.8 355.5H760.5M764.8 376.2H760.5M764.8 417.6H760.5M764.8 438.3H760.5M764.8 458.9H760.5M764.8 479.6H760.5M764.8 521.0H760.5M764.8 541.7H760.5M764.8 562.3H760.5M764.8 583.0H760.5" stroke="#000" stroke-width="2.4" fill="none"/><path d="M764.8 86.7H755.6M764.8 190.1H755.6M764.8 293.5H755.6M764.8 396.9H755.6M764.8 500.3H755.6M764.8 603.7H755.6" stroke="#000" stroke-width="2.4" fill="none"/>
<ellipse cx="451.7" cy="309.5" rx="165" ry="103.5" fill="none" stroke="#fff" stroke-width="2.8" stroke-dasharray="5.8 3.4"/>
<circle cx="349.7" cy="298.4" r="5.5" fill="none" stroke="#000" stroke-width="3.1"/>
<path d="M446.2 304.5l13 13M459.2 304.5l-13 13" stroke="#000" stroke-width="3.7" fill="none"/>
<text x="290.0" y="281.5" font-size="25.0" text-anchor="start" >HD 130079</text>
<text x="742.5" y="67.0" font-size="30.0" text-anchor="end" >Planck 353Ghz</text>
<circle cx="205.2" cy="552.5" r="51.6" fill="none" stroke="#000" stroke-width="3.4"/>
<text x="204.6" y="472.8" font-size="29.5" text-anchor="middle" >5'</text>
<text x="124.6" y="105.1" font-size="30.8" text-anchor="end" >05</text>
<text x="124.6" y="208.5" font-size="30.8" text-anchor="end" >10</text>
<text x="124.6" y="311.9" font-size="30.8" text-anchor="end" >15</text>
<text x="124.6" y="415.3" font-size="30.8" text-anchor="end" >-65:20</text>
<text x="124.6" y="518.7" font-size="30.8" text-anchor="end" >25</text>
<text x="124.6" y="622.1" font-size="30.8" text-anchor="end" >30</text>
<text x="193.3" y="662.6" font-size="30.8" text-anchor="middle" >51</text>
<text x="257.3" y="662.6" font-size="30.8" text-anchor="middle" >50</text>
<text x="321.3" y="662.6" font-size="30.8" text-anchor="middle" >14:50</text>
<text x="385.3" y="662.6" font-size="30.8" text-anchor="middle" >49</text>
<text x="449.3" y="662.6" font-size="30.8" text-anchor="middle" >49</text>
<text x="513.3" y="662.6" font-size="30.8" text-anchor="middle" >48</text>
<text x="577.3" y="662.6" font-size="30.8" text-anchor="middle" >48</text>
<text x="641.3" y="662.6" font-size="30.8" text-anchor="middle" >47</text>
<text x="705.3" y="662.6" font-size="30.8" text-anchor="middle" >47</text>
<text x="448.4" y="731.8" font-size="46.8" text-anchor="middle" >Right Ascension [J2000]</text>
<text transform="translate(35.6 320.5) rotate(-90)" font-size="46.1" text-anchor="middle" >Declination [J2000]</text>
<rect x="770" y="2.5" width="63.6" height="741.5" fill="url(#cb)"/>
<path d="M770 2.5V744M833.6 2.5V744" stroke="#666" stroke-width="1.3" fill="none"/>
<path d="M833.6 47.3H843.5M833.6 140.1H843.5M833.6 232.8H843.5M833.6 325.6H843.5M833.6 418.3H843.5M833.6 511.1H843.5M833.6 603.8H843.5M833.6 696.5H843.5" stroke="#333" stroke-width="1.2" fill="none"/>
<text x="864.5" y="65.3" font-size="30.0" text-anchor="start" >0.02</text>
<text x="864.5" y="158.1" font-size="30.0" text-anchor="start" >0.018</text>
<text x="864.5" y="250.8" font-size="30.0" text-anchor="start" >0.016</text>
<text x="864.5" y="343.6" font-size="30.0" text-anchor="start" >0.014</text>
<text x="864.5" y="436.3" font-size="30.0" text-anchor="start" >0.012</text>
<text x="864.5" y="529.0" font-size="30.0" text-anchor="start" >0.01</text>
<text x="864.5" y="621.8" font-size="30.0" text-anchor="start" >0.008</text>
<text x="864.5" y="714.5" font-size="30.0" text-anchor="start" >0.006</text>
<text transform="translate(992.3 363) rotate(-90)" text-anchor="middle"><tspan font-size="37">K</tspan><tspan font-size="28" dy="6">CMB</tspan></text>
<g clip-path="url(#rclip)"><polygon points="1157.1,138.9 1193.4,131.4 1200.9,167.8 1164.5,175.3" fill="#0000de"/><polygon points="1192.0,131.7 1228.4,124.2 1235.9,160.6 1199.5,168.1" fill="#0000d3"/><polygon points="1227.0,124.5 1263.4,117.1 1270.8,153.4 1234.5,160.9" fill="#0000d3"/><polygon points="1262.0,117.4 1298.3,109.9 1305.8,146.3 1269.4,153.7" fill="#0000d3"/><polygon points="1296.9,110.2 1333.3,102.7 1340.8,139.1 1304.4,146.5" fill="#0000d3"/><polygon points="1331.9,103.0 1368.3,95.5 1375.7,131.9 1339.4,139.4" fill="#0000de"/><polygon points="1366.9,95.8 1403.3,88.4 1410.7,124.7 1374.3,132.2" fill="#0000de"/><polygon points="1401.9,88.6 1438.2,81.2 1445.7,117.5 1409.3,125.0" fill="#0000d3"/><polygon points="1436.8,81.5 1473.2,74.0 1480.7,110.4 1444.3,117.8" fill="#0000be"/><polygon points="1471.8,74.3 1508.2,66.8 1515.6,103.2 1479.3,110.7" fill="#0000a1"/><polygon points="1506.8,67.1 1543.1,59.6 1550.6,96.0 1514.2,103.5" fill="#000073"/><polygon points="1541.7,59.9 1578.1,52.5 1585.6,88.8 1549.2,96.3" fill="#00004c"/><polygon points="1576.7,52.7 1613.1,45.3 1620.5,81.7 1584.2,89.1" fill="#000028"/><polygon points="1611.7,45.6 1648.0,38.1 1655.5,74.5 1619.1,81.9" fill="#000017"/><polygon points="1646.7,38.4 1683.0,30.9 1690.5,67.3 1654.1,74.8" fill="#000017"/><polygon points="1681.6,31.2 1718.0,23.7 1725.5,60.1 1689.1,67.6" fill="#000017"/><polygon points="1164.2,173.9 1200.6,166.4 1208.1,202.8 1171.7,210.2" fill="#0000be"/><polygon points="1199.2,166.7 1235.6,159.2 1243.0,195.6 1206.7,203.1" fill="#0000a8"/><polygon points="1234.2,159.5 1270.5,152.0 1278.0,188.4 1241.6,195.9" fill="#0000a8"/><polygon points="1269.1,152.3 1305.5,144.9 1313.0,181.2 1276.6,188.7" fill="#0000b3"/><polygon points="1304.1,145.1 1340.5,137.7 1348.0,174.1 1311.6,181.5" fill="#0000be"/><polygon points="1339.1,138.0 1375.5,130.5 1382.9,166.9 1346.6,174.3" fill="#0000d3"/><polygon points="1374.1,130.8 1410.4,123.3 1417.9,159.7 1381.5,167.2" fill="#0000d3"/><polygon points="1409.0,123.6 1445.4,116.1 1452.9,152.5 1416.5,160.0" fill="#000094"/><polygon points="1444.0,116.4 1480.4,109.0 1487.8,145.3 1451.5,152.8" fill="#00006c"/><polygon points="1479.0,109.3 1515.3,101.8 1522.8,138.2 1486.4,145.6" fill="#000052"/><polygon points="1513.9,102.1 1550.3,94.6 1557.8,131.0 1521.4,138.4" fill="#000040"/><polygon points="1548.9,94.9 1585.3,87.4 1592.8,123.8 1556.4,131.3" fill="#000028"/><polygon points="1583.9,87.7 1620.3,80.3 1627.7,116.6 1591.4,124.1" fill="#00000c"/><polygon points="1618.9,80.5 1655.2,73.1 1662.7,109.4 1626.3,116.9" fill="#000005"/><polygon points="1653.8,73.4 1690.2,65.9 1697.7,102.3 1661.3,109.7" fill="#000005"/><polygon points="1688.8,66.2 1725.2,58.7 1732.6,95.1 1696.3,102.6" fill="#000009"/><polygon points="1171.4,208.8 1207.8,201.4 1215.3,237.7 1178.9,245.2" fill="#0000de"/><polygon points="1206.4,201.7 1242.8,194.2 1250.2,230.6 1213.9,238.0" fill="#0000de"/><polygon points="1241.4,194.5 1277.7,187.0 1285.2,223.4 1248.8,230.8" fill="#0000de"/><polygon points="1276.3,187.3 1312.7,179.8 1320.2,216.2 1283.8,223.7" fill="#0000de"/><polygon points="1311.3,180.1 1347.7,172.7 1355.1,209.0 1318.8,216.5" fill="#0000de"/><polygon points="1346.3,172.9 1382.6,165.5 1390.1,201.8 1353.7,209.3" fill="#0000e9"/><polygon points="1381.2,165.8 1417.6,158.3 1425.1,194.7 1388.7,202.1" fill="#0000d3"/><polygon points="1416.2,158.6 1452.6,151.1 1460.0,187.5 1423.7,195.0" fill="#0000a1"/><polygon points="1451.2,151.4 1487.6,143.9 1495.0,180.3 1458.6,187.8" fill="#000073"/><polygon points="1486.2,144.2 1522.5,136.8 1530.0,173.1 1493.6,180.6" fill="#000052"/><polygon points="1521.1,137.0 1557.5,129.6 1565.0,166.0 1528.6,173.4" fill="#000040"/><polygon points="1556.1,129.9 1592.5,122.4 1599.9,158.8 1563.6,166.2" fill="#000034"/><polygon points="1591.1,122.7 1627.4,115.2 1634.9,151.6 1598.5,159.1" fill="#000017"/><polygon points="1626.0,115.5 1662.4,108.0 1669.9,144.4 1633.5,151.9" fill="#000007"/><polygon points="1661.0,108.3 1697.4,100.9 1704.8,137.2 1668.5,144.7" fill="#000005"/><polygon points="1696.0,101.2 1732.3,93.7 1739.8,130.1 1703.4,137.5" fill="#000009"/><polygon points="1178.6,243.8 1215.0,236.3 1222.4,272.7 1186.1,280.2" fill="#0000ef"/><polygon points="1213.6,236.6 1249.9,229.2 1257.4,265.5 1221.0,273.0" fill="#0000f4"/><polygon points="1248.5,229.4 1284.9,222.0 1292.4,258.3 1256.0,265.8" fill="#0000ef"/><polygon points="1283.5,222.3 1319.9,214.8 1327.3,251.2 1291.0,258.6" fill="#0301fa"/><polygon points="1318.5,215.1 1354.8,207.6 1362.3,244.0 1325.9,251.5" fill="#1004e4"/><polygon points="1353.4,207.9 1389.8,200.4 1397.3,236.8 1360.9,244.3" fill="#1305de"/><polygon points="1388.4,200.7 1424.8,193.3 1432.3,229.6 1395.9,237.1" fill="#0602f4"/><polygon points="1423.4,193.6 1459.8,186.1 1467.2,222.5 1430.9,229.9" fill="#0000fa"/><polygon points="1458.4,186.4 1494.7,178.9 1502.2,215.3 1465.8,222.7" fill="#0000c3"/><polygon points="1493.3,179.2 1529.7,171.7 1537.2,208.1 1500.8,215.6" fill="#0000a8"/><polygon points="1528.3,172.0 1564.7,164.6 1572.1,200.9 1535.8,208.4" fill="#0000a1"/><polygon points="1563.3,164.8 1599.6,157.4 1607.1,193.7 1570.7,201.2" fill="#000079"/><polygon points="1598.2,157.7 1634.6,150.2 1642.1,186.6 1605.7,194.0" fill="#000052"/><polygon points="1633.2,150.5 1669.6,143.0 1677.0,179.4 1640.7,186.9" fill="#00001c"/><polygon points="1668.2,143.3 1704.6,135.8 1712.0,172.2 1675.7,179.7" fill="#000007"/><polygon points="1703.2,136.1 1739.5,128.7 1747.0,165.0 1710.6,172.5" fill="#000009"/><polygon points="1185.8,278.8 1222.1,271.3 1229.6,307.7 1193.2,315.1" fill="#0000e9"/><polygon points="1220.7,271.6 1257.1,264.1 1264.6,300.5 1228.2,308.0" fill="#0000ef"/><polygon points="1255.7,264.4 1292.1,256.9 1299.5,293.3 1263.2,300.8" fill="#0000fa"/><polygon points="1290.7,257.2 1327.1,249.8 1334.5,286.1 1298.2,293.6" fill="#2d08b2"/><polygon points="1325.7,250.1 1362.0,242.6 1369.5,279.0 1333.1,286.4" fill="#980030"/><polygon points="1360.6,242.9 1397.0,235.4 1404.5,271.8 1368.1,279.2" fill="#e20007"/><polygon points="1395.6,235.7 1432.0,228.2 1439.4,264.6 1403.1,272.1" fill="#b10021"/><polygon points="1430.6,228.5 1466.9,221.1 1474.4,257.4 1438.0,264.9" fill="#7b0148"/><polygon points="1465.5,221.3 1501.9,213.9 1509.4,250.2 1473.0,257.7" fill="#2008c8"/><polygon points="1500.5,214.2 1536.9,206.7 1544.3,243.1 1508.0,250.5" fill="#0000ff"/><polygon points="1535.5,207.0 1571.9,199.5 1579.3,235.9 1542.9,243.4" fill="#0000fa"/><polygon points="1570.5,199.8 1606.8,192.3 1614.3,228.7 1577.9,236.2" fill="#0000d3"/><polygon points="1605.4,192.6 1641.8,185.2 1649.3,221.5 1612.9,229.0" fill="#0000a1"/><polygon points="1640.4,185.5 1676.8,178.0 1684.2,214.4 1647.9,221.8" fill="#000065"/><polygon points="1675.4,178.3 1711.7,170.8 1719.2,207.2 1682.8,214.6" fill="#00001c"/><polygon points="1710.3,171.1 1746.7,163.6 1754.2,200.0 1717.8,207.5" fill="#00000e"/><polygon points="1193.0,313.7 1229.3,306.3 1236.8,342.6 1200.4,350.1" fill="#0000e4"/><polygon points="1227.9,306.6 1264.3,299.1 1271.8,335.5 1235.4,342.9" fill="#0000d3"/><polygon points="1262.9,299.4 1299.3,291.9 1306.7,328.3 1270.4,335.8" fill="#0000f4"/><polygon points="1297.9,292.2 1334.2,284.7 1341.7,321.1 1305.3,328.6" fill="#8d0037"/><polygon points="1332.8,285.0 1369.2,277.6 1376.7,313.9 1340.3,321.4" fill="#ffd209"/><polygon points="1367.8,277.9 1404.2,270.4 1411.6,306.8 1375.3,314.2" fill="#ffff1b"/><polygon points="1402.8,270.7 1439.1,263.2 1446.6,299.6 1410.2,307.0" fill="#ffd808"/><polygon points="1437.7,263.5 1474.1,256.0 1481.6,292.4 1445.2,299.9" fill="#ff4a09"/><polygon points="1472.7,256.3 1509.1,248.8 1516.6,285.2 1480.2,292.7" fill="#e20007"/><polygon points="1507.7,249.1 1544.1,241.7 1551.5,278.0 1515.2,285.5" fill="#810141"/><polygon points="1542.7,242.0 1579.0,234.5 1586.5,270.9 1550.1,278.3" fill="#51067b"/><polygon points="1577.6,234.8 1614.0,227.3 1621.5,263.7 1585.1,271.1" fill="#1a06d3"/><polygon points="1612.6,227.6 1649.0,220.1 1656.4,256.5 1620.1,264.0" fill="#0000be"/><polygon points="1647.6,220.4 1683.9,213.0 1691.4,249.3 1655.0,256.8" fill="#000065"/><polygon points="1682.5,213.2 1718.9,205.8 1726.4,242.1 1690.0,249.6" fill="#00001c"/><polygon points="1717.5,206.1 1753.9,198.6 1761.3,235.0 1725.0,242.4" fill="#000013"/><polygon points="1200.1,348.7 1236.5,341.2 1244.0,377.6 1207.6,385.1" fill="#0000be"/><polygon points="1235.1,341.5 1271.5,334.1 1278.9,370.4 1242.6,377.9" fill="#0000a8"/><polygon points="1270.1,334.4 1306.4,326.9 1313.9,363.3 1277.5,370.7" fill="#2008c8"/><polygon points="1305.0,327.2 1341.4,319.7 1348.9,356.1 1312.5,363.5" fill="#ff690a"/><polygon points="1340.0,320.0 1376.4,312.5 1383.8,348.9 1347.5,356.4" fill="#ffffff"/><polygon points="1375.0,312.8 1411.4,305.4 1418.8,341.7 1382.4,349.2" fill="#ffffff"/><polygon points="1410.0,305.6 1446.3,298.2 1453.8,334.5 1417.4,342.0" fill="#ffff6f"/><polygon points="1444.9,298.5 1481.3,291.0 1488.8,327.4 1452.4,334.8" fill="#ffd209"/><polygon points="1479.9,291.3 1516.3,283.8 1523.7,320.2 1487.4,327.7" fill="#ff3607"/><polygon points="1514.9,284.1 1551.2,276.6 1558.7,313.0 1522.3,320.5" fill="#ff0000"/><polygon points="1549.8,276.9 1586.2,269.5 1593.7,305.8 1557.3,313.3" fill="#9e002c"/><polygon points="1584.8,269.8 1621.2,262.3 1628.6,298.7 1592.3,306.1" fill="#2308c3"/><polygon points="1619.8,262.6 1656.1,255.1 1663.6,291.5 1627.2,298.9" fill="#0000a8"/><polygon points="1654.8,255.4 1691.1,247.9 1698.6,284.3 1662.2,291.8" fill="#00006c"/><polygon points="1689.7,248.2 1726.1,240.7 1733.6,277.1 1697.2,284.6" fill="#000028"/><polygon points="1724.7,241.0 1761.1,233.6 1768.5,269.9 1732.2,277.4" fill="#000017"/><polygon points="1207.3,383.7 1243.7,376.2 1251.1,412.6 1214.8,420.1" fill="#0000c3"/><polygon points="1242.3,376.5 1278.6,369.0 1286.1,405.4 1249.7,412.9" fill="#0000be"/><polygon points="1277.2,369.3 1313.6,361.9 1321.1,398.2 1284.7,405.7" fill="#3308a8"/><polygon points="1312.2,362.1 1348.6,354.7 1356.1,391.1 1319.7,398.5" fill="#ff730a"/><polygon points="1347.2,355.0 1383.6,347.5 1391.0,383.9 1354.7,391.3" fill="#ffffaf"/><polygon points="1382.2,347.8 1418.5,340.3 1426.0,376.7 1389.6,384.2" fill="#fffff7"/><polygon points="1417.1,340.6 1453.5,333.1 1461.0,369.5 1424.6,377.0" fill="#ffff17"/><polygon points="1452.1,333.4 1488.5,326.0 1495.9,362.3 1459.6,369.8" fill="#ff850a"/><polygon points="1487.1,326.3 1523.4,318.8 1530.9,355.2 1494.5,362.6" fill="#ff0f02"/><polygon points="1522.0,319.1 1558.4,311.6 1565.9,348.0 1529.5,355.4" fill="#b10021"/><polygon points="1557.0,311.9 1593.4,304.4 1600.9,340.8 1564.5,348.3" fill="#400892"/><polygon points="1592.0,304.7 1628.4,297.3 1635.8,333.6 1599.5,341.1" fill="#0000e4"/><polygon points="1627.0,297.5 1663.3,290.1 1670.8,326.4 1634.4,333.9" fill="#00005f"/><polygon points="1661.9,290.4 1698.3,282.9 1705.8,319.3 1669.4,326.7" fill="#000034"/><polygon points="1696.9,283.2 1733.3,275.7 1740.7,312.1 1704.4,319.6" fill="#000013"/><polygon points="1731.9,276.0 1768.2,268.5 1775.7,304.9 1739.3,312.4" fill="#000013"/><polygon points="1214.5,418.7 1250.9,411.2 1258.3,447.6 1222.0,455.0" fill="#0000ef"/><polygon points="1249.5,411.5 1285.8,404.0 1293.3,440.4 1256.9,447.8" fill="#0000f4"/><polygon points="1284.4,404.3 1320.8,396.8 1328.3,433.2 1291.9,440.7" fill="#2d08b2"/><polygon points="1319.4,397.1 1355.8,389.7 1363.2,426.0 1326.9,433.5" fill="#ff0901"/><polygon points="1354.4,389.9 1390.7,382.5 1398.2,418.8 1361.8,426.3" fill="#ff780a"/><polygon points="1389.3,382.8 1425.7,375.3 1433.2,411.7 1396.8,419.1" fill="#ffd209"/><polygon points="1424.3,375.6 1460.7,368.1 1468.1,404.5 1431.8,412.0" fill="#ff500a"/><polygon points="1459.3,368.4 1495.7,360.9 1503.1,397.3 1466.7,404.8" fill="#c70015"/><polygon points="1494.3,361.2 1530.6,353.8 1538.1,390.1 1501.7,397.6" fill="#8d0037"/><polygon points="1529.2,354.0 1565.6,346.6 1573.1,383.0 1536.7,390.4" fill="#3d0897"/><polygon points="1564.2,346.9 1600.6,339.4 1608.0,375.8 1571.7,383.2" fill="#0000fa"/><polygon points="1599.2,339.7 1635.5,332.2 1643.0,368.6 1606.6,376.1" fill="#00009b"/><polygon points="1634.1,332.5 1670.5,325.0 1678.0,361.4 1641.6,368.9" fill="#000040"/><polygon points="1669.1,325.3 1705.5,317.9 1712.9,354.2 1676.6,361.7" fill="#00000c"/><polygon points="1704.1,318.2 1740.4,310.7 1747.9,347.1 1711.5,354.5" fill="#000007"/><polygon points="1739.0,311.0 1775.4,303.5 1782.9,339.9 1746.5,347.3" fill="#000017"/><polygon points="1221.7,453.6 1258.0,446.2 1265.5,482.5 1229.1,490.0" fill="#0000f4"/><polygon points="1256.6,446.4 1293.0,439.0 1300.5,475.4 1264.1,482.8" fill="#0000f4"/><polygon points="1291.6,439.3 1328.0,431.8 1335.4,468.2 1299.1,475.6" fill="#2008c8"/><polygon points="1326.6,432.1 1362.9,424.6 1370.4,461.0 1334.0,468.5" fill="#8d0037"/><polygon points="1361.5,424.9 1397.9,417.4 1405.4,453.8 1369.0,461.3" fill="#c00018"/><polygon points="1396.5,417.7 1432.9,410.3 1440.4,446.6 1404.0,454.1" fill="#e20007"/><polygon points="1431.5,410.6 1467.9,403.1 1475.3,439.5 1439.0,446.9" fill="#ad0024"/><polygon points="1466.5,403.4 1502.8,395.9 1510.3,432.3 1473.9,439.7" fill="#1a06d3"/><polygon points="1501.4,396.2 1537.8,388.7 1545.3,425.1 1508.9,432.6" fill="#0000fa"/><polygon points="1536.4,389.0 1572.8,381.6 1580.2,417.9 1543.9,425.4" fill="#0000c3"/><polygon points="1571.4,381.8 1607.7,374.4 1615.2,410.7 1578.8,418.2" fill="#00009d"/><polygon points="1606.3,374.7 1642.7,367.2 1650.2,403.6 1613.8,411.0" fill="#000052"/><polygon points="1641.3,367.5 1677.7,360.0 1685.2,396.4 1648.8,403.9" fill="#000017"/><polygon points="1676.3,360.3 1712.7,352.8 1720.1,389.2 1683.8,396.7" fill="#000007"/><polygon points="1711.3,353.1 1747.6,345.7 1755.1,382.0 1718.7,389.5" fill="#000034"/><polygon points="1746.2,345.9 1782.6,338.5 1790.1,374.9 1753.7,382.3" fill="#000040"/><polygon points="1228.8,488.6 1265.2,481.1 1272.7,517.5 1236.3,525.0" fill="#0000f4"/><polygon points="1263.8,481.4 1300.2,474.0 1307.6,510.3 1271.3,517.8" fill="#0000f4"/><polygon points="1298.8,474.2 1335.2,466.8 1342.6,503.1 1306.3,510.6" fill="#1a06d3"/><polygon points="1333.8,467.1 1370.1,459.6 1377.6,496.0 1341.2,503.4" fill="#3008ad"/><polygon points="1368.7,459.9 1405.1,452.4 1412.6,488.8 1376.2,496.3" fill="#46078a"/><polygon points="1403.7,452.7 1440.1,445.2 1447.5,481.6 1411.2,489.1" fill="#3308a8"/><polygon points="1438.7,445.5 1475.0,438.1 1482.5,474.4 1446.1,481.9" fill="#0000ff"/><polygon points="1473.6,438.3 1510.0,430.9 1517.5,467.3 1481.1,474.7" fill="#0000be"/><polygon points="1508.6,431.2 1545.0,423.7 1552.4,460.1 1516.1,467.5" fill="#000079"/><polygon points="1543.6,424.0 1580.0,416.5 1587.4,452.9 1551.0,460.4" fill="#000052"/><polygon points="1578.6,416.8 1614.9,409.3 1622.4,445.7 1586.0,453.2" fill="#000034"/><polygon points="1613.5,409.6 1649.9,402.2 1657.4,438.5 1621.0,446.0" fill="#000015"/><polygon points="1648.5,402.5 1684.9,395.0 1692.3,431.4 1656.0,438.8" fill="#00001c"/><polygon points="1683.5,395.3 1719.8,387.8 1727.3,424.2 1690.9,431.6" fill="#000052"/><polygon points="1718.4,388.1 1754.8,380.6 1762.3,417.0 1725.9,424.5" fill="#000075"/><polygon points="1753.4,380.9 1789.8,373.5 1797.2,409.8 1760.9,417.3" fill="#000097"/><polygon points="1236.0,523.6 1272.4,516.1 1279.9,552.5 1243.5,559.9" fill="#0000f4"/><polygon points="1271.0,516.4 1307.4,508.9 1314.8,545.3 1278.5,552.8" fill="#0000ff"/><polygon points="1306.0,509.2 1342.3,501.7 1349.8,538.1 1313.4,545.6" fill="#0000ff"/><polygon points="1340.9,502.0 1377.3,494.6 1384.8,530.9 1348.4,538.4" fill="#0000ff"/><polygon points="1375.9,494.9 1412.3,487.4 1419.7,523.8 1383.4,531.2" fill="#0000fa"/><polygon points="1410.9,487.7 1447.2,480.2 1454.7,516.6 1418.3,524.0" fill="#0000e4"/><polygon points="1445.8,480.5 1482.2,473.0 1489.7,509.4 1453.3,516.9" fill="#0000a8"/><polygon points="1480.8,473.3 1517.2,465.9 1524.7,502.2 1488.3,509.7" fill="#000065"/><polygon points="1515.8,466.1 1552.2,458.7 1559.6,495.0 1523.3,502.5" fill="#00003a"/><polygon points="1550.8,459.0 1587.1,451.5 1594.6,487.9 1558.2,495.3" fill="#000013"/><polygon points="1585.7,451.8 1622.1,444.3 1629.6,480.7 1593.2,488.2" fill="#000007"/><polygon points="1620.7,444.6 1657.1,437.1 1664.5,473.5 1628.2,481.0" fill="#00001c"/><polygon points="1655.7,437.4 1692.0,430.0 1699.5,466.3 1663.1,473.8" fill="#000052"/><polygon points="1690.6,430.2 1727.0,422.8 1734.5,459.2 1698.1,466.6" fill="#000080"/><polygon points="1725.6,423.1 1762.0,415.6 1769.4,452.0 1733.1,459.4" fill="#0000a1"/><polygon points="1760.6,415.9 1797.0,408.4 1804.4,444.8 1768.0,452.3" fill="#0000a8"/><polygon points="1243.2,558.5 1279.6,551.1 1287.0,587.4 1250.7,594.9" fill="#0000ef"/><polygon points="1278.2,551.4 1314.5,543.9 1322.0,580.3 1285.6,587.7" fill="#0000ef"/><polygon points="1313.1,544.2 1349.5,536.7 1357.0,573.1 1320.6,580.6" fill="#0000e4"/><polygon points="1348.1,537.0 1384.5,529.5 1391.9,565.9 1355.6,573.4" fill="#0000d3"/><polygon points="1383.1,529.8 1419.5,522.4 1426.9,558.7 1390.5,566.2" fill="#0000be"/><polygon points="1418.1,522.6 1454.4,515.2 1461.9,551.6 1425.5,559.0" fill="#00009b"/><polygon points="1453.0,515.5 1489.4,508.0 1496.9,544.4 1460.5,551.8" fill="#00006c"/><polygon points="1488.0,508.3 1524.4,500.8 1531.8,537.2 1495.5,544.7" fill="#000040"/><polygon points="1523.0,501.1 1559.3,493.6 1566.8,530.0 1530.4,537.5" fill="#000034"/><polygon points="1557.9,493.9 1594.3,486.5 1601.8,522.8 1565.4,530.3" fill="#000013"/><polygon points="1592.9,486.8 1629.3,479.3 1636.7,515.7 1600.4,523.1" fill="#000009"/><polygon points="1627.9,479.6 1664.2,472.1 1671.7,508.5 1635.3,515.9" fill="#000034"/><polygon points="1662.9,472.4 1699.2,464.9 1706.7,501.3 1670.3,508.8" fill="#000065"/><polygon points="1697.8,465.2 1734.2,457.8 1741.7,494.1 1705.3,501.6" fill="#000087"/><polygon points="1732.8,458.0 1769.2,450.6 1776.6,486.9 1740.3,494.4" fill="#0000a1"/><polygon points="1767.8,450.9 1804.1,443.4 1811.6,479.8 1775.2,487.2" fill="#0000a8"/><polygon points="1250.4,593.5 1286.7,586.0 1294.2,622.4 1257.8,629.9" fill="#0000e4"/><polygon points="1285.3,586.3 1321.7,578.9 1329.2,615.2 1292.8,622.7" fill="#0000de"/><polygon points="1320.3,579.2 1356.7,571.7 1364.2,608.1 1327.8,615.5" fill="#0000c3"/><polygon points="1355.3,572.0 1391.7,564.5 1399.1,600.9 1362.8,608.3" fill="#0000a1"/><polygon points="1390.3,564.8 1426.6,557.3 1434.1,593.7 1397.7,601.2" fill="#000087"/><polygon points="1425.2,557.6 1461.6,550.2 1469.1,586.5 1432.7,594.0" fill="#000073"/><polygon points="1460.2,550.4 1496.6,543.0 1504.0,579.3 1467.7,586.8" fill="#000052"/><polygon points="1495.2,543.3 1531.5,535.8 1539.0,572.2 1502.6,579.6" fill="#00003a"/><polygon points="1530.1,536.1 1566.5,528.6 1574.0,565.0 1537.6,572.5" fill="#00004c"/><polygon points="1565.1,528.9 1601.5,521.4 1609.0,557.8 1572.6,565.3" fill="#00003a"/><polygon points="1600.1,521.7 1636.5,514.3 1643.9,550.6 1607.6,558.1" fill="#00003a"/><polygon points="1635.1,514.5 1671.4,507.1 1678.9,543.5 1642.5,550.9" fill="#00004c"/><polygon points="1670.0,507.4 1706.4,499.9 1713.9,536.3 1677.5,543.7" fill="#00006c"/><polygon points="1705.0,500.2 1741.4,492.7 1748.8,529.1 1712.5,536.6" fill="#000080"/><polygon points="1740.0,493.0 1776.3,485.5 1783.8,521.9 1747.4,529.4" fill="#00009b"/><polygon points="1774.9,485.8 1811.3,478.4 1818.8,514.7 1782.4,522.2" fill="#0000a1"/></g>
<rect x="1160.3" y="30.1" width="645.5" height="590.5" fill="none" stroke="#000" stroke-width="2.6"/>
<path d="M1173.3 30.1V34.4M1203.1 30.1V34.4M1217.9 30.1V34.4M1232.8 30.1V34.4M1247.6 30.1V34.4M1277.4 30.1V34.4M1292.2 30.1V34.4M1307.1 30.1V34.4M1321.9 30.1V34.4M1351.7 30.1V34.4M1366.5 30.1V34.4M1381.4 30.1V34.4M1396.2 30.1V34.4M1426.0 30.1V34.4M1440.8 30.1V34.4M1455.7 30.1V34.4M1470.5 30.1V34.4M1500.3 30.1V34.4M1515.1 30.1V34.4M1530.0 30.1V34.4M1544.8 30.1V34.4M1574.6 30.1V34.4M1589.4 30.1V34.4M1604.3 30.1V34.4M1619.1 30.1V34.4M1648.9 30.1V34.4M1663.7 30.1V34.4M1678.6 30.1V34.4M1693.4 30.1V34.4M1723.2 30.1V34.4M1738.0 30.1V34.4M1752.9 30.1V34.4M1767.7 30.1V34.4M1797.5 30.1V34.4" stroke="#000" stroke-width="2.4" fill="none"/><path d="M1188.2 30.1V39.3M1262.5 30.1V39.3M1336.8 30.1V39.3M1411.1 30.1V39.3M1485.4 30.1V39.3M1559.7 30.1V39.3M1634.0 30.1V39.3M1708.3 30.1V39.3M1782.6 30.1V39.3" stroke="#000" stroke-width="2.4" fill="none"/><path d="M1163.2 620.6V616.3M1177.8 620.6V616.3M1207.0 620.6V616.3M1221.6 620.6V616.3M1236.2 620.6V616.3M1250.8 620.6V616.3M1280.1 620.6V616.3M1294.7 620.6V616.3M1309.3 620.6V616.3M1323.9 620.6V616.3M1353.1 620.6V616.3M1367.7 620.6V616.3M1382.3 620.6V616.3M1396.9 620.6V616.3M1426.2 620.6V616.3M1440.8 620.6V616.3M1455.4 620.6V616.3M1470.0 620.6V616.3M1499.2 620.6V616.3M1513.8 620.6V616.3M1528.4 620.6V616.3M1543.0 620.6V616.3M1572.3 620.6V616.3M1586.9 620.6V616.3M1601.5 620.6V616.3M1616.1 620.6V616.3M1645.3 620.6V616.3M1659.9 620.6V616.3M1674.5 620.6V616.3M1689.1 620.6V616.3M1718.4 620.6V616.3M1733.0 620.6V616.3M1747.6 620.6V616.3M1762.2 620.6V616.3M1791.4 620.6V616.3" stroke="#000" stroke-width="2.4" fill="none"/><path d="M1192.4 620.6V611.4M1265.5 620.6V611.4M1338.5 620.6V611.4M1411.6 620.6V611.4M1484.6 620.6V611.4M1557.7 620.6V611.4M1630.7 620.6V611.4M1703.8 620.6V611.4M1776.8 620.6V611.4" stroke="#000" stroke-width="2.4" fill="none"/><path d="M1160.3 37.9H1164.6M1160.3 84.9H1164.6M1160.3 108.4H1164.6M1160.3 132.0H1164.6M1160.3 155.5H1164.6M1160.3 202.5H1164.6M1160.3 226.1H1164.6M1160.3 249.6H1164.6M1160.3 273.1H1164.6M1160.3 320.2H1164.6M1160.3 343.7H1164.6M1160.3 367.2H1164.6M1160.3 390.7H1164.6M1160.3 437.8H1164.6M1160.3 461.3H1164.6M1160.3 484.8H1164.6M1160.3 508.4H1164.6M1160.3 555.4H1164.6M1160.3 578.9H1164.6M1160.3 602.5H1164.6" stroke="#000" stroke-width="2.4" fill="none"/><path d="M1160.3 61.4H1169.5M1160.3 179.0H1169.5M1160.3 296.6H1169.5M1160.3 414.3H1169.5M1160.3 531.9H1169.5" stroke="#000" stroke-width="2.4" fill="none"/><path d="M1805.8 33.1H1801.5M1805.8 80.1H1801.5M1805.8 103.6H1801.5M1805.8 127.2H1801.5M1805.8 150.7H1801.5M1805.8 197.7H1801.5M1805.8 221.2H1801.5M1805.8 244.8H1801.5M1805.8 268.3H1801.5M1805.8 315.3H1801.5M1805.8 338.8H1801.5M1805.8 362.4H1801.5M1805.8 385.9H1801.5M1805.8 432.9H1801.5M1805.8 456.4H1801.5M1805.8 480.0H1801.5M1805.8 503.5H1801.5M1805.8 550.5H1801.5M1805.8 574.0H1801.5M1805.8 597.6H1801.5" stroke="#000" stroke-width="2.4" fill="none"/><path d="M1805.8 56.6H1796.6M1805.8 174.2H1796.6M1805.8 291.8H1796.6M1805.8 409.4H1796.6M1805.8 527.0H1796.6" stroke="#000" stroke-width="2.4" fill="none"/>
<ellipse cx="1485.8" cy="312.8" rx="188.8" ry="117.8" fill="none" stroke="#fff" stroke-width="3.4" stroke-dasharray="10.6 8"/>
<circle cx="1370" cy="300" r="5.6" fill="none" stroke="#000" stroke-width="3.3"/>
<path d="M1480.7 308.7l12.6 12.6M1493.3 308.7l-12.6 12.6" stroke="#000" stroke-width="3.9" fill="none"/>
<text x="1311.0" y="284.0" font-size="25.0" text-anchor="start" >HD 130079</text>
<text x="1778.5" y="597.0" font-size="29.7" text-anchor="end" >IRAS 60microns</text>
<circle cx="1202.6" cy="574.5" r="11.4" fill="none" stroke="#000" stroke-width="3.3"/>
<text x="1203.0" y="549.3" font-size="29.5" text-anchor="middle" >1'</text>
<text x="1155.2" y="78.6" font-size="30.8" text-anchor="end" >05</text>
<text x="1155.2" y="196.2" font-size="30.8" text-anchor="end" >-65:10</text>
<text x="1155.2" y="313.8" font-size="30.8" text-anchor="end" >15</text>
<text x="1155.2" y="431.5" font-size="30.8" text-anchor="end" >20</text>
<text x="1155.2" y="549.1" font-size="30.8" text-anchor="end" >25</text>
<text x="1191.4" y="660.5" font-size="30.8" text-anchor="middle" >51</text>
<text x="1264.5" y="660.5" font-size="30.8" text-anchor="middle" >50</text>
<text x="1337.5" y="660.5" font-size="30.8" text-anchor="middle" >14:50</text>
<text x="1410.6" y="660.5" font-size="30.8" text-anchor="middle" >49</text>
<text x="1483.6" y="660.5" font-size="30.8" text-anchor="middle" >49</text>
<text x="1556.7" y="660.5" font-size="30.8" text-anchor="middle" >48</text>
<text x="1629.7" y="660.5" font-size="30.8" text-anchor="middle" >48</text>
<text x="1702.8" y="660.5" font-size="30.8" text-anchor="middle" >47</text>
<text x="1775.8" y="660.5" font-size="30.8" text-anchor="middle" >47</text>
<text x="1480.6" y="727.9" font-size="45.3" text-anchor="middle" >Right Ascension [J2000]</text>
<text transform="translate(1066.1 327.6) rotate(-90)" font-size="45.4" text-anchor="middle" >Declination [J2000]</text>
<rect x="1828.6" y="20" width="61.6" height="722" fill="url(#cb)"/>
<path d="M1828.6 20V742M1890.2 20V742" stroke="#666" stroke-width="1.3" fill="none"/>
<path d="M1890.2 90.4H1900M1890.2 163.0H1900M1890.2 235.6H1900M1890.2 308.2H1900M1890.2 380.8H1900M1890.2 453.4H1900M1890.2 526.0H1900M1890.2 598.6H1900M1890.2 671.2H1900" stroke="#333" stroke-width="1.2" fill="none"/>
<text x="1920.5" y="108.2" font-size="30.6" text-anchor="start" >14.5</text>
<text x="1920.5" y="180.8" font-size="30.6" text-anchor="start" >14</text>
<text x="1920.5" y="253.4" font-size="30.6" text-anchor="start" >13.5</text>
<text x="1920.5" y="326.0" font-size="30.6" text-anchor="start" >13</text>
<text x="1920.5" y="398.6" font-size="30.6" text-anchor="start" >12.5</text>
<text x="1920.5" y="471.2" font-size="30.6" text-anchor="start" >12</text>
<text x="1920.5" y="543.8" font-size="30.6" text-anchor="start" >11.5</text>
<text x="1920.5" y="616.4" font-size="30.6" text-anchor="start" >11</text>
<text x="1920.5" y="689.0" font-size="30.6" text-anchor="start" >10.5</text>
<text transform="translate(2039.7 398.0) rotate(-90)" font-size="43.0" text-anchor="middle" >MJy/sr</text>
</svg>
</body></html>
